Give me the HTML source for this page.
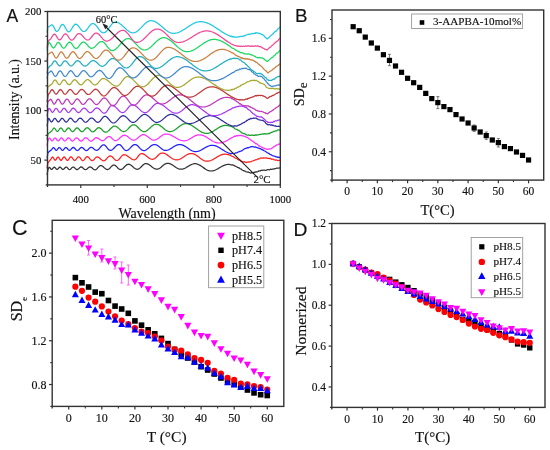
<!DOCTYPE html>
<html><head><meta charset="utf-8"><style>
html,body{margin:0;padding:0;background:#fff;}
svg{display:block;will-change:transform;}
</style></head><body>
<svg width="550" height="450" viewBox="0 0 550 450">
<rect width="550" height="450" fill="#fff"/>
<polyline points="47.10,175.14 47.90,169.64 49.14,167.14 49.97,167.73 50.80,168.89 51.63,169.47 52.50,168.88 53.38,167.70 54.25,167.11 55.17,167.71 56.09,168.91 57.00,169.50 57.73,169.15 58.45,168.29 59.18,167.43 59.90,167.08 60.67,167.44 61.43,168.31 62.20,169.18 62.96,169.54 63.77,169.17 64.57,168.29 65.38,167.41 66.18,167.04 67.04,167.41 67.89,168.31 68.74,169.21 69.60,169.58 70.32,169.33 71.04,168.69 71.76,167.89 72.48,167.25 73.21,167.00 73.97,167.25 74.74,167.91 75.50,168.72 76.27,169.37 77.04,169.62 77.85,169.37 78.66,168.70 79.48,167.88 80.29,167.21 81.11,166.95 81.83,167.14 82.55,167.63 83.27,168.31 83.99,168.99 84.72,169.49 85.44,169.67 86.21,169.49 86.98,168.98 87.75,168.29 88.52,167.59 89.29,167.09 90.06,166.90 90.77,167.04 91.47,167.45 92.18,168.03 92.88,168.67 93.59,169.25 94.29,169.66 95.00,169.80 95.72,169.64 96.45,169.17 97.17,168.47 97.90,167.65 98.62,166.83 99.35,166.13 100.08,165.66 100.80,165.50 101.53,165.62 102.27,165.98 103.00,166.53 103.73,167.19 104.47,167.91 105.20,168.57 105.93,169.12 106.67,169.48 107.40,169.60 108.12,169.46 108.84,169.06 109.57,168.45 110.29,167.70 111.01,166.90 111.73,166.15 112.46,165.54 113.18,165.14 113.90,165.00 114.63,165.14 115.37,165.54 116.10,166.15 116.83,166.90 117.57,167.70 118.30,168.45 119.03,169.06 119.77,169.46 120.50,169.60 121.23,169.49 121.95,169.17 122.68,168.67 123.41,168.02 124.14,167.28 124.86,166.52 125.59,165.78 126.32,165.13 127.05,164.63 127.77,164.31 128.50,164.20 129.22,164.29 129.95,164.54 130.68,164.95 131.40,165.47 132.12,166.09 132.85,166.75 133.57,167.41 134.30,168.03 135.02,168.55 135.75,168.96 136.47,169.21 137.20,169.30 137.92,169.20 138.65,168.92 139.38,168.47 140.10,167.88 140.82,167.19 141.55,166.45 142.28,165.71 143.00,165.03 143.72,164.43 144.45,163.98 145.18,163.70 145.90,163.60 146.63,163.66 147.35,163.84 148.08,164.13 148.81,164.53 149.53,165.00 150.26,165.53 150.99,166.11 151.71,166.69 152.44,167.27 153.17,167.80 153.89,168.27 154.62,168.67 155.35,168.96 156.07,169.14 156.80,169.20 157.51,169.14 158.23,168.94 158.94,168.64 159.65,168.22 160.37,167.72 161.08,167.16 161.79,166.56 162.51,165.94 163.22,165.34 163.93,164.78 164.65,164.28 165.36,163.86 166.07,163.56 166.79,163.36 167.50,163.30 168.21,163.34 168.92,163.46 169.63,163.66 170.34,163.92 171.05,164.25 171.76,164.64 172.47,165.06 173.18,165.53 173.89,166.01 174.61,166.49 175.32,166.97 176.03,167.44 176.74,167.86 177.45,168.25 178.16,168.58 178.87,168.84 179.58,169.04 180.29,169.16 181.00,169.20 181.70,169.17 182.40,169.07 183.10,168.90 183.80,168.67 184.50,168.39 185.20,168.07 185.90,167.70 186.60,167.30 187.30,166.88 188.00,166.45 188.70,166.02 189.40,165.60 190.10,165.20 190.80,164.83 191.50,164.51 192.20,164.23 192.90,164.00 193.60,163.83 194.30,163.73 195.00,163.70 195.72,163.74 196.45,163.85 197.17,164.03 197.89,164.28 198.61,164.59 199.34,164.96 200.06,165.38 200.78,165.83 201.50,166.32 202.23,166.83 202.95,167.35 203.67,167.87 204.40,168.38 205.12,168.87 205.84,169.32 206.56,169.74 207.29,170.11 208.01,170.42 208.73,170.67 209.45,170.85 210.18,170.96 210.90,171.00 211.60,170.97 212.30,170.90 213.00,170.77 213.70,170.59 214.40,170.37 215.10,170.11 215.80,169.80 216.50,169.47 217.20,169.11 217.90,168.72 218.60,168.32 219.30,167.91 220.00,167.49 220.70,167.08 221.40,166.68 222.10,166.29 222.80,165.93 223.50,165.60 224.20,165.29 224.90,165.03 225.60,164.81 226.30,164.63 227.00,164.50 227.70,164.43 228.40,164.40 229.11,164.42 229.81,164.47 230.52,164.81 231.22,164.88 231.93,164.81 232.64,164.89 233.34,165.30 234.05,165.48 234.75,166.03 235.46,166.01 236.17,166.46 236.87,166.88 237.58,167.48 238.28,167.57 238.99,167.81 239.70,168.53 240.40,168.83 241.11,168.97 241.82,169.82 242.52,170.25 243.23,170.49 243.93,170.91 244.64,170.82 245.35,171.43 246.05,171.83 246.76,171.94 247.46,172.02 248.17,171.96 248.88,172.36 249.58,172.61 250.29,172.91 250.99,173.01 251.70,172.68 252.42,172.93 253.14,172.45 253.85,172.73 254.57,172.41 255.29,171.86 256.01,172.16 256.72,171.72 257.44,171.79 258.16,171.45 258.88,170.76 259.59,170.89 260.31,170.95 261.03,170.35 261.75,170.26 262.46,170.54 263.18,170.01 263.90,170.25 264.61,170.01 265.33,170.49 266.04,170.32 266.75,170.00 267.47,169.66 268.18,169.72 268.89,169.74 269.60,169.91 270.32,169.19 271.03,169.36 271.74,169.32 272.46,169.06 273.17,169.10 273.88,168.76 274.60,168.92 275.31,168.54 276.02,168.41 276.73,168.21 277.45,168.23 278.16,168.01 278.87,168.09 279.59,167.86 280.30,168.00" fill="none" stroke="#333333" stroke-width="1.25" stroke-linejoin="round"/>
<polyline points="47.10,168.30 47.90,162.80 49.93,160.30 50.78,159.47 51.63,157.81 52.48,156.98 53.38,157.82 54.27,159.50 55.17,160.34 55.87,159.84 56.58,158.64 57.28,157.43 57.99,156.93 58.73,157.44 59.48,158.66 60.22,159.88 60.97,160.39 61.75,159.88 62.54,158.64 63.32,157.40 64.10,156.88 64.93,157.40 65.76,158.66 66.59,159.92 67.42,160.44 68.12,160.10 68.83,159.19 69.53,158.08 70.23,157.17 70.93,156.83 71.68,157.18 72.42,158.10 73.16,159.23 73.91,160.15 74.65,160.50 75.44,160.15 76.23,159.21 77.02,158.06 77.81,157.12 78.60,156.77 79.31,157.02 80.01,157.72 80.71,158.67 81.41,159.62 82.11,160.31 82.81,160.57 83.56,160.31 84.30,159.60 85.05,158.63 85.80,157.66 86.54,156.95 87.29,156.70 88.09,156.96 88.88,157.68 89.68,158.67 90.48,159.66 91.28,160.38 92.08,160.64 92.81,160.46 93.54,159.94 94.27,159.19 95.00,158.36 95.74,157.60 96.47,157.09 97.20,156.90 97.92,157.02 98.64,157.36 99.37,157.88 100.09,158.51 100.81,159.19 101.53,159.83 102.26,160.34 102.98,160.68 103.70,160.80 104.43,160.65 105.17,160.23 105.90,159.58 106.63,158.78 107.37,157.92 108.10,157.12 108.83,156.47 109.57,156.05 110.30,155.90 111.02,156.04 111.74,156.44 112.47,157.05 113.19,157.80 113.91,158.60 114.63,159.35 115.36,159.96 116.08,160.36 116.80,160.50 117.53,160.36 118.26,159.95 118.99,159.30 119.72,158.50 120.45,157.60 121.18,156.70 121.91,155.90 122.64,155.25 123.37,154.84 124.10,154.70 124.83,154.76 125.56,154.95 126.29,155.26 127.01,155.66 127.74,156.14 128.47,156.68 129.20,157.25 129.93,157.82 130.66,158.36 131.39,158.84 132.11,159.24 132.84,159.55 133.57,159.74 134.30,159.80 135.02,159.65 135.74,159.21 136.46,158.52 137.18,157.66 137.90,156.70 138.62,155.74 139.34,154.88 140.06,154.19 140.78,153.75 141.50,153.60 142.23,153.66 142.97,153.85 143.70,154.14 144.43,154.54 145.17,155.03 145.90,155.57 146.63,156.15 147.37,156.75 148.10,157.33 148.83,157.88 149.57,158.36 150.30,158.76 151.03,159.05 151.77,159.24 152.50,159.30 153.25,159.21 153.99,158.94 154.74,158.51 155.48,157.94 156.23,157.27 156.98,156.53 157.72,155.77 158.47,155.03 159.22,154.36 159.96,153.79 160.71,153.36 161.45,153.09 162.20,153.00 162.91,153.04 163.63,153.17 164.34,153.38 165.06,153.66 165.77,154.01 166.49,154.42 167.20,154.88 167.92,155.38 168.63,155.91 169.35,156.45 170.06,156.99 170.78,157.52 171.50,158.02 172.21,158.48 172.93,158.89 173.64,159.24 174.35,159.52 175.07,159.73 175.78,159.86 176.50,159.90 177.24,159.86 177.97,159.74 178.70,159.55 179.44,159.29 180.18,158.96 180.91,158.58 181.64,158.15 182.38,157.69 183.12,157.20 183.85,156.70 184.58,156.20 185.32,155.71 186.06,155.25 186.79,154.82 187.52,154.44 188.26,154.11 189.00,153.85 189.73,153.66 190.46,153.54 191.20,153.50 191.92,153.54 192.65,153.66 193.37,153.85 194.09,154.11 194.81,154.44 195.54,154.83 196.26,155.27 196.98,155.75 197.70,156.27 198.43,156.80 199.15,157.35 199.87,157.90 200.60,158.43 201.32,158.95 202.04,159.43 202.76,159.87 203.49,160.26 204.21,160.59 204.93,160.85 205.65,161.04 206.38,161.16 207.10,161.20 207.81,161.17 208.52,161.09 209.24,160.95 209.95,160.77 210.66,160.53 211.37,160.25 212.08,159.93 212.80,159.58 213.51,159.19 214.22,158.78 214.93,158.36 215.64,157.92 216.36,157.48 217.07,157.04 217.78,156.62 218.49,156.21 219.20,155.82 219.92,155.47 220.63,155.15 221.34,154.87 222.05,154.63 222.76,154.45 223.48,154.31 224.19,154.23 224.90,154.20 225.61,154.22 226.31,154.28 227.02,154.39 227.73,154.53 228.43,154.71 229.14,154.93 229.85,155.18 230.55,155.20 231.26,156.01 231.96,156.29 232.67,156.29 233.38,156.84 234.08,157.20 234.79,157.74 235.50,158.25 236.20,158.17 236.91,158.53 237.62,159.50 238.32,159.61 239.03,160.22 239.74,160.04 240.44,160.69 241.15,161.20 241.85,161.13 242.56,161.89 243.27,162.07 243.97,161.64 244.68,161.78 245.39,162.25 246.09,162.59 246.80,162.22 247.51,162.08 248.23,162.17 248.94,161.80 249.65,161.80 250.36,161.79 251.07,161.64 251.79,161.23 252.50,160.99 253.21,160.71 253.93,160.60 254.64,160.20 255.35,159.72 256.06,159.99 256.77,159.51 257.49,159.29 258.20,158.71 258.91,159.03 259.62,158.71 260.34,158.00 261.05,157.98 261.76,158.13 262.47,158.02 263.19,158.12 263.90,157.75 264.61,158.04 265.33,157.97 266.04,157.77 266.75,158.06 267.47,158.37 268.18,158.47 268.89,158.38 269.60,158.59 270.32,158.37 271.03,158.70 271.74,159.27 272.46,159.18 273.17,159.20 273.88,159.64 274.60,159.91 275.31,160.05 276.02,159.98 276.73,160.15 277.45,160.31 278.16,160.58 278.87,160.46 279.59,160.41 280.30,160.50" fill="none" stroke="#ff2020" stroke-width="1.25" stroke-linejoin="round"/>
<polyline points="47.10,158.34 47.90,152.84 50.72,150.34 51.63,149.64 52.53,148.24 53.44,147.54 54.15,147.96 54.87,148.96 55.59,149.96 56.30,150.38 57.06,149.96 57.81,148.94 58.57,147.92 59.32,147.50 60.12,147.93 60.92,148.96 61.72,149.99 62.51,150.42 63.36,149.99 64.20,148.94 65.05,147.89 65.89,147.46 66.61,147.74 67.33,148.50 68.04,149.43 68.76,150.18 69.48,150.47 70.24,150.18 71.00,149.41 71.76,148.46 72.52,147.70 73.28,147.40 74.09,147.70 74.90,148.48 75.71,149.45 76.52,150.23 77.33,150.52 78.05,150.31 78.77,149.73 79.49,148.94 80.21,148.14 80.93,147.56 81.65,147.35 82.41,147.56 83.18,148.16 83.95,148.97 84.72,149.78 85.49,150.37 86.26,150.58 86.96,150.42 87.67,149.96 88.38,149.30 89.08,148.57 89.79,147.90 90.49,147.45 91.20,147.28 91.96,147.44 92.71,147.87 93.47,148.49 94.23,149.19 94.99,149.81 95.74,150.25 96.50,150.40 97.22,150.26 97.94,149.87 98.66,149.25 99.38,148.47 100.10,147.60 100.82,146.73 101.54,145.95 102.26,145.33 102.98,144.94 103.70,144.80 104.43,144.97 105.17,145.46 105.90,146.20 106.63,147.11 107.37,148.09 108.10,149.00 108.83,149.74 109.57,150.23 110.30,150.40 111.02,150.30 111.75,150.00 112.47,149.54 113.20,148.93 113.92,148.21 114.65,147.45 115.38,146.69 116.10,145.97 116.83,145.36 117.55,144.90 118.28,144.60 119.00,144.50 119.73,144.65 120.46,145.08 121.19,145.76 121.92,146.61 122.65,147.55 123.38,148.49 124.11,149.34 124.84,150.02 125.57,150.45 126.30,150.60 127.02,150.50 127.75,150.19 128.47,149.71 129.20,149.07 129.93,148.34 130.65,147.55 131.38,146.76 132.10,146.03 132.82,145.39 133.55,144.91 134.28,144.60 135.00,144.50 135.72,144.60 136.45,144.91 137.18,145.39 137.90,146.03 138.62,146.76 139.35,147.55 140.07,148.34 140.80,149.07 141.52,149.71 142.25,150.19 142.97,150.50 143.70,150.60 144.43,150.53 145.15,150.34 145.88,150.02 146.61,149.59 147.33,149.07 148.06,148.49 148.79,147.87 149.51,147.23 150.24,146.61 150.97,146.03 151.69,145.51 152.42,145.08 153.15,144.76 153.87,144.57 154.60,144.50 155.33,144.56 156.05,144.76 156.78,145.06 157.51,145.48 158.23,145.97 158.96,146.54 159.69,147.14 160.41,147.76 161.14,148.36 161.87,148.93 162.59,149.42 163.32,149.84 164.05,150.14 164.77,150.34 165.50,150.40 166.21,150.36 166.92,150.26 167.63,150.08 168.34,149.84 169.05,149.54 169.76,149.18 170.47,148.79 171.18,148.36 171.89,147.91 172.60,147.45 173.31,146.99 174.02,146.54 174.73,146.11 175.44,145.72 176.15,145.36 176.86,145.06 177.57,144.82 178.28,144.64 178.99,144.54 179.70,144.50 180.42,144.54 181.15,144.64 181.87,144.82 182.59,145.06 183.31,145.37 184.04,145.73 184.76,146.13 185.48,146.58 186.20,147.05 186.93,147.54 187.65,148.05 188.37,148.56 189.10,149.05 189.82,149.52 190.54,149.97 191.26,150.37 191.99,150.73 192.71,151.04 193.43,151.28 194.15,151.46 194.88,151.56 195.60,151.60 196.32,151.57 197.04,151.48 197.77,151.34 198.49,151.14 199.21,150.89 199.93,150.60 200.65,150.27 201.37,149.90 202.10,149.50 202.82,149.09 203.54,148.66 204.26,148.24 204.98,147.81 205.70,147.40 206.43,147.00 207.15,146.63 207.87,146.30 208.59,146.01 209.31,145.76 210.03,145.56 210.76,145.42 211.48,145.33 212.20,145.30 212.91,145.33 213.61,145.40 214.32,145.53 215.03,145.71 215.74,145.93 216.44,146.19 217.15,146.50 217.86,146.84 218.56,147.22 219.27,147.62 219.98,148.05 220.69,148.49 221.39,148.94 222.10,149.40 222.81,149.86 223.51,150.31 224.22,150.75 224.93,151.18 225.64,151.58 226.34,151.96 227.05,152.30 227.76,152.61 228.46,152.87 229.17,153.09 229.88,153.27 230.59,153.72 231.29,153.79 232.00,153.19 232.72,153.19 233.44,153.66 234.16,153.49 234.88,153.31 235.60,152.89 236.32,152.89 237.04,152.66 237.77,152.38 238.49,151.79 239.21,151.67 239.93,151.32 240.65,151.20 241.37,151.04 242.09,150.65 242.81,150.00 243.53,149.57 244.25,149.09 244.97,148.59 245.69,148.25 246.41,148.25 247.13,147.85 247.86,147.63 248.58,147.76 249.30,147.30 250.02,147.15 250.74,146.79 251.46,146.55 252.18,146.70 252.90,146.55 253.60,146.82 254.31,147.22 255.01,147.08 255.71,146.85 256.41,147.50 257.12,147.61 257.82,147.78 258.52,148.15 259.22,148.32 259.93,148.63 260.63,148.65 261.33,149.43 262.03,149.77 262.74,149.59 263.44,150.40 264.14,150.78 264.84,151.01 265.55,151.48 266.25,151.88 266.95,152.61 267.65,152.74 268.36,153.39 269.06,153.47 269.76,154.25 270.46,154.65 271.17,154.72 271.87,155.16 272.57,155.75 273.27,155.93 273.98,156.06 274.68,156.14 275.38,156.46 276.08,156.93 276.79,156.74 277.49,157.41 278.19,157.08 278.89,157.62 279.60,157.25 280.30,157.40" fill="none" stroke="#2020ff" stroke-width="1.25" stroke-linejoin="round"/>
<polyline points="47.10,145.98 47.90,140.48 49.36,137.98 50.28,138.72 51.20,140.20 52.12,140.94 52.85,140.50 53.57,139.44 54.30,138.38 55.03,137.95 55.80,138.39 56.57,139.46 57.34,140.53 58.11,140.97 58.92,140.53 59.74,139.44 60.55,138.35 61.37,137.90 62.23,138.36 63.10,139.46 63.96,140.56 64.83,141.02 65.56,140.72 66.30,139.93 67.03,138.95 67.77,138.16 68.50,137.86 69.28,138.16 70.06,138.97 70.84,139.96 71.63,140.76 72.41,141.07 73.24,140.76 74.08,139.94 74.91,138.93 75.74,138.12 76.58,137.80 77.32,138.03 78.06,138.63 78.80,139.46 79.55,140.29 80.29,140.90 81.03,141.12 81.83,140.90 82.62,140.28 83.42,139.43 84.21,138.59 85.01,137.97 85.80,137.74 86.54,137.91 87.27,138.39 88.00,139.08 88.73,139.85 89.46,140.54 90.20,141.02 90.93,141.19 91.72,141.02 92.50,140.53 93.29,139.82 94.08,139.04 94.87,138.34 95.66,137.85 96.44,137.67 97.19,137.79 97.93,138.12 98.68,138.61 99.42,139.19 100.17,139.77 100.91,140.26 101.66,140.58 102.40,140.70 103.16,140.57 103.91,140.21 104.67,139.65 105.42,138.96 106.18,138.24 106.93,137.55 107.69,136.99 108.44,136.63 109.20,136.50 109.96,136.66 110.72,137.12 111.49,137.80 112.25,138.60 113.01,139.40 113.78,140.08 114.54,140.54 115.30,140.70 116.00,140.62 116.70,140.39 117.40,140.01 118.10,139.51 118.80,138.93 119.50,138.28 120.20,137.62 120.90,136.97 121.60,136.39 122.30,135.89 123.00,135.51 123.70,135.28 124.40,135.20 125.11,135.27 125.82,135.48 126.52,135.82 127.23,136.26 127.94,136.78 128.65,137.35 129.35,137.95 130.06,138.52 130.77,139.04 131.48,139.48 132.18,139.82 132.89,140.03 133.60,140.10 134.30,140.03 135.00,139.83 135.70,139.50 136.40,139.06 137.10,138.54 137.80,137.96 138.50,137.35 139.20,136.74 139.90,136.16 140.60,135.64 141.30,135.20 142.00,134.87 142.70,134.67 143.40,134.60 144.14,134.67 144.89,134.87 145.63,135.20 146.37,135.64 147.11,136.16 147.86,136.74 148.60,137.35 149.34,137.96 150.09,138.54 150.83,139.06 151.57,139.50 152.31,139.83 153.06,140.03 153.80,140.10 154.52,140.05 155.24,139.89 155.95,139.64 156.67,139.30 157.39,138.89 158.11,138.41 158.82,137.88 159.54,137.33 160.26,136.77 160.98,136.22 161.69,135.69 162.41,135.21 163.13,134.80 163.85,134.46 164.56,134.21 165.28,134.05 166.00,134.00 166.73,134.03 167.46,134.11 168.18,134.24 168.91,134.42 169.64,134.65 170.37,134.92 171.10,135.23 171.82,135.58 172.55,135.95 173.28,136.35 174.01,136.76 174.74,137.19 175.46,137.61 176.19,138.04 176.92,138.45 177.65,138.85 178.38,139.22 179.10,139.57 179.83,139.88 180.56,140.15 181.29,140.38 182.02,140.56 182.74,140.69 183.47,140.77 184.20,140.80 184.92,140.77 185.64,140.67 186.36,140.50 187.08,140.28 187.80,140.00 188.51,139.67 189.23,139.30 189.95,138.90 190.67,138.47 191.39,138.02 192.11,137.58 192.83,137.13 193.55,136.70 194.27,136.30 194.99,135.93 195.70,135.60 196.42,135.32 197.14,135.10 197.86,134.93 198.58,134.83 199.30,134.80 200.00,134.83 200.71,134.90 201.41,135.03 202.11,135.21 202.82,135.43 203.52,135.69 204.23,136.00 204.93,136.34 205.63,136.72 206.34,137.12 207.04,137.55 207.74,137.99 208.45,138.44 209.15,138.90 209.85,139.36 210.56,139.81 211.26,140.25 211.96,140.68 212.67,141.08 213.37,141.46 214.07,141.80 214.78,142.11 215.48,142.37 216.19,142.59 216.89,142.77 217.59,142.90 218.30,142.97 219.00,143.00 219.71,142.98 220.43,142.91 221.14,142.80 221.86,142.65 222.57,142.46 223.28,142.23 224.00,141.96 224.71,141.66 225.42,141.33 226.14,140.98 226.85,140.61 227.57,140.22 228.28,139.81 228.99,139.41 229.71,138.99 230.42,138.40 231.13,138.21 231.85,137.70 232.56,137.49 233.28,137.16 233.99,136.44 234.70,136.10 235.42,136.41 236.13,135.78 236.84,135.57 237.56,135.95 238.27,135.47 238.99,135.66 239.70,135.38 240.40,135.52 241.10,135.24 241.81,135.67 242.51,135.97 243.21,135.91 243.91,136.27 244.62,136.47 245.32,136.33 246.02,137.13 246.72,137.36 247.43,137.54 248.13,137.75 248.83,138.76 249.53,138.93 250.24,139.57 250.94,140.17 251.64,140.55 252.34,141.20 253.05,141.35 253.75,142.15 254.45,142.42 255.15,143.28 255.86,143.76 256.56,143.72 257.26,144.24 257.96,144.78 258.67,145.77 259.37,145.85 260.07,146.41 260.77,146.58 261.48,147.10 262.18,147.37 262.88,147.66 263.58,148.10 264.29,148.35 264.99,148.79 265.69,148.81 266.39,149.12 267.10,149.17 267.80,149.32 268.50,149.12 269.24,148.72 269.98,149.06 270.71,148.90 271.45,148.55 272.19,147.94 272.93,147.61 273.66,146.79 274.40,146.73 275.14,146.06 275.88,145.39 276.61,144.81 277.35,144.98 278.09,144.76 278.82,143.90 279.56,144.26 280.30,144.00" fill="none" stroke="#ff30ff" stroke-width="1.25" stroke-linejoin="round"/>
<polyline points="47.10,139.50 47.90,134.00 51.02,131.50 51.79,130.98 52.56,129.74 53.32,128.50 54.09,127.98 54.90,128.50 55.72,129.76 56.53,131.02 57.34,131.54 58.21,131.01 59.07,129.74 59.94,128.46 60.80,127.93 61.54,128.28 62.28,129.20 63.01,130.33 63.75,131.24 64.48,131.59 65.27,131.24 66.06,130.31 66.84,129.16 67.63,128.23 68.41,127.88 69.25,128.24 70.09,129.18 70.93,130.35 71.77,131.29 72.61,131.65 73.36,131.40 74.11,130.69 74.86,129.73 75.61,128.77 76.36,128.07 77.11,127.81 77.92,128.08 78.72,128.79 79.53,129.77 80.33,130.74 81.14,131.46 81.95,131.72 82.69,131.53 83.43,130.97 84.18,130.17 84.92,129.29 85.67,128.49 86.41,127.94 87.15,127.74 87.86,127.89 88.56,128.33 89.26,128.99 89.97,129.77 90.67,130.55 91.37,131.21 92.08,131.65 92.78,131.80 93.54,131.64 94.30,131.19 95.06,130.52 95.83,129.73 96.59,128.93 97.35,128.26 98.11,127.81 98.87,127.65 99.61,127.79 100.35,128.19 101.08,128.79 101.82,129.53 102.55,130.32 103.29,131.06 104.03,131.67 104.76,132.06 105.50,132.20 106.21,132.11 106.92,131.85 107.62,131.43 108.33,130.88 109.04,130.23 109.75,129.52 110.45,128.78 111.16,128.07 111.87,127.42 112.58,126.87 113.28,126.45 113.99,126.19 114.70,126.10 115.46,126.19 116.22,126.47 116.97,126.91 117.73,127.47 118.49,128.14 119.25,128.85 120.01,129.56 120.77,130.22 121.53,130.79 122.28,131.23 123.04,131.51 123.80,131.60 124.55,131.50 125.31,131.21 126.06,130.74 126.82,130.13 127.57,129.41 128.32,128.61 129.08,127.79 129.83,126.99 130.58,126.27 131.34,125.66 132.09,125.19 132.85,124.90 133.60,124.80 134.34,124.89 135.09,125.14 135.83,125.54 136.57,126.08 137.31,126.72 138.06,127.44 138.80,128.20 139.54,128.96 140.29,129.68 141.03,130.32 141.77,130.86 142.51,131.26 143.26,131.51 144.00,131.60 144.72,131.54 145.44,131.35 146.15,131.05 146.87,130.63 147.59,130.13 148.31,129.55 149.02,128.91 149.74,128.24 150.46,127.56 151.18,126.89 151.89,126.25 152.61,125.67 153.33,125.17 154.05,124.75 154.76,124.45 155.48,124.26 156.20,124.20 156.92,124.25 157.64,124.40 158.36,124.65 159.08,124.98 159.81,125.39 160.53,125.88 161.25,126.41 161.97,126.99 162.69,127.59 163.41,128.21 164.13,128.81 164.85,129.39 165.57,129.92 166.29,130.41 167.02,130.82 167.74,131.15 168.46,131.40 169.18,131.55 169.90,131.60 170.62,131.56 171.35,131.44 172.07,131.24 172.79,130.97 173.51,130.62 174.24,130.22 174.96,129.76 175.68,129.26 176.40,128.73 177.13,128.17 177.85,127.60 178.57,127.03 179.30,126.47 180.02,125.94 180.74,125.44 181.46,124.98 182.19,124.58 182.91,124.23 183.63,123.96 184.35,123.76 185.08,123.64 185.80,123.60 186.52,123.63 187.23,123.71 187.95,123.86 188.67,124.05 189.39,124.30 190.10,124.60 190.82,124.94 191.54,125.33 192.26,125.75 192.97,126.20 193.69,126.69 194.41,127.19 195.12,127.71 195.84,128.23 196.56,128.77 197.28,129.29 197.99,129.81 198.71,130.31 199.43,130.80 200.14,131.25 200.86,131.67 201.58,132.06 202.30,132.40 203.01,132.70 203.73,132.95 204.45,133.14 205.17,133.29 205.88,133.37 206.60,133.40 207.30,133.37 208.00,133.29 208.70,133.16 209.40,132.97 210.10,132.74 210.80,132.46 211.50,132.14 212.20,131.79 212.90,131.40 213.60,130.98 214.30,130.55 215.00,130.09 215.70,129.63 216.40,129.17 217.10,128.71 217.80,128.25 218.50,127.82 219.20,127.40 219.90,127.01 220.60,126.66 221.30,126.34 222.00,126.06 222.70,125.83 223.40,125.64 224.10,125.51 224.80,125.43 225.50,125.40 226.22,125.42 226.94,125.48 227.66,125.58 228.38,125.72 229.10,125.89 229.82,126.10 230.54,126.16 231.26,126.34 231.98,126.86 232.70,127.02 233.42,127.32 234.14,127.94 234.86,128.70 235.58,129.03 236.30,129.43 237.02,129.49 237.74,130.15 238.46,130.42 239.18,130.79 239.90,131.18 240.62,131.68 241.34,132.59 242.06,132.93 242.78,133.29 243.50,133.65 244.22,133.56 244.94,133.94 245.66,134.44 246.38,134.76 247.10,135.06 247.82,135.25 248.54,134.83 249.26,135.29 249.98,135.40 250.70,135.30 251.43,135.07 252.16,135.25 252.89,134.94 253.62,135.48 254.35,135.37 255.08,135.07 255.81,134.81 256.54,135.14 257.27,134.80 258.00,134.92 258.73,134.79 259.46,134.45 260.19,134.29 260.92,134.34 261.65,134.14 262.38,133.89 263.11,133.93 263.84,134.25 264.57,133.69 265.30,133.68 266.01,134.07 266.73,133.76 267.44,133.83 268.16,133.63 268.87,133.36 269.59,133.60 270.30,132.79 271.01,132.67 271.73,132.24 272.44,132.24 273.16,131.69 273.87,131.45 274.59,131.44 275.30,130.87 276.01,130.79 276.73,130.82 277.44,130.07 278.16,129.89 278.87,129.90 279.59,130.21 280.30,130.00" fill="none" stroke="#18a028" stroke-width="1.25" stroke-linejoin="round"/>
<polyline points="47.10,126.34 47.90,120.84 48.38,118.34 49.16,118.87 49.94,120.16 50.72,121.45 51.50,121.99 52.32,121.45 53.15,120.14 53.98,118.83 54.81,118.29 55.52,118.64 56.22,119.58 56.93,120.74 57.64,121.68 58.34,122.04 59.10,121.68 59.85,120.72 60.61,119.55 61.36,118.59 62.12,118.23 62.92,118.60 63.73,119.57 64.54,120.76 65.34,121.73 66.15,122.10 66.87,121.84 67.60,121.12 68.32,120.13 69.04,119.15 69.76,118.43 70.48,118.16 71.26,118.43 72.03,119.17 72.81,120.17 73.59,121.17 74.36,121.90 75.14,122.17 75.85,121.97 76.57,121.40 77.29,120.58 78.01,119.68 78.72,118.86 79.44,118.29 80.16,118.09 80.93,118.29 81.71,118.87 82.48,119.71 83.26,120.63 84.04,121.47 84.81,122.05 85.59,122.25 86.32,122.09 87.06,121.63 87.80,120.94 88.53,120.13 89.27,119.31 90.00,118.62 90.74,118.16 91.48,118.00 92.19,118.13 92.90,118.51 93.62,119.09 94.33,119.80 95.04,120.55 95.75,121.26 96.47,121.84 97.18,122.22 97.89,122.35 98.59,122.20 99.29,121.77 99.99,121.10 100.69,120.26 101.40,119.33 102.10,118.39 102.80,117.55 103.50,116.88 104.20,116.45 104.90,116.30 105.61,116.41 106.32,116.75 107.03,117.28 107.73,117.97 108.44,118.78 109.15,119.65 109.86,120.52 110.57,121.33 111.28,122.02 111.98,122.55 112.69,122.89 113.40,123.00 114.15,122.89 114.91,122.58 115.66,122.08 116.42,121.42 117.17,120.64 117.92,119.79 118.68,118.91 119.43,118.06 120.18,117.28 120.94,116.62 121.69,116.12 122.45,115.81 123.20,115.70 123.95,115.80 124.71,116.08 125.46,116.54 126.22,117.15 126.97,117.86 127.72,118.65 128.48,119.45 129.23,120.24 129.98,120.95 130.74,121.56 131.49,122.02 132.25,122.30 133.00,122.40 133.72,122.32 134.45,122.10 135.18,121.73 135.90,121.23 136.62,120.62 137.35,119.93 138.07,119.18 138.80,118.40 139.53,117.62 140.25,116.87 140.97,116.18 141.70,115.57 142.42,115.07 143.15,114.70 143.88,114.48 144.60,114.40 145.32,114.47 146.04,114.67 146.75,115.00 147.47,115.44 148.19,115.99 148.91,116.62 149.62,117.31 150.34,118.03 151.06,118.77 151.78,119.49 152.49,120.18 153.21,120.81 153.93,121.36 154.65,121.80 155.36,122.13 156.08,122.33 156.80,122.40 157.52,122.35 158.23,122.20 158.95,121.96 159.66,121.64 160.38,121.23 161.09,120.75 161.81,120.22 162.52,119.64 163.24,119.03 163.95,118.40 164.66,117.77 165.38,117.16 166.09,116.58 166.81,116.05 167.53,115.57 168.24,115.16 168.95,114.84 169.67,114.60 170.38,114.45 171.10,114.40 171.80,114.43 172.51,114.53 173.21,114.70 173.92,114.93 174.62,115.21 175.32,115.56 176.03,115.95 176.73,116.39 177.43,116.86 178.14,117.37 178.84,117.90 179.55,118.45 180.25,119.00 180.95,119.55 181.66,120.10 182.36,120.63 183.07,121.14 183.77,121.61 184.47,122.05 185.18,122.44 185.88,122.79 186.58,123.07 187.29,123.30 187.99,123.47 188.70,123.57 189.40,123.60 190.12,123.58 190.83,123.51 191.55,123.39 192.27,123.23 192.99,123.03 193.70,122.79 194.42,122.52 195.14,122.21 195.86,121.87 196.57,121.50 197.29,121.11 198.01,120.71 198.72,120.29 199.44,119.86 200.16,119.44 200.88,119.01 201.59,118.59 202.31,118.19 203.03,117.80 203.74,117.43 204.46,117.09 205.18,116.78 205.90,116.51 206.61,116.27 207.33,116.07 208.05,115.91 208.77,115.79 209.48,115.72 210.20,115.70 210.90,115.72 211.60,115.78 212.30,115.89 213.00,116.03 213.70,116.21 214.40,116.43 215.10,116.68 215.80,116.97 216.50,117.29 217.20,117.64 217.90,118.01 218.60,118.41 219.30,118.83 220.00,119.26 220.70,119.70 221.40,120.16 222.10,120.62 222.80,121.08 223.50,121.54 224.20,122.00 224.90,122.44 225.60,122.87 226.30,123.29 227.00,123.69 227.70,124.06 228.40,124.41 229.10,124.73 229.80,125.02 230.50,125.36 231.20,125.66 231.90,125.88 232.60,126.12 233.30,126.09 234.00,126.27 234.70,125.67 235.41,125.95 236.13,126.21 236.84,125.88 237.56,125.88 238.27,125.12 238.99,125.11 239.70,124.65 240.41,124.52 241.13,124.18 241.84,123.39 242.56,123.12 243.27,122.74 243.99,122.74 244.70,122.19 245.41,121.31 246.13,121.32 246.84,120.43 247.56,120.35 248.27,119.61 248.99,119.16 249.70,119.43 250.41,118.67 251.13,118.41 251.84,118.73 252.56,118.49 253.27,117.95 253.99,118.35 254.70,118.03 255.43,118.18 256.15,118.01 256.88,118.77 257.61,118.92 258.34,119.48 259.06,119.82 259.79,119.77 260.52,120.14 261.25,120.25 261.97,120.40 262.70,120.40 263.46,120.76 264.21,121.53 264.97,121.91 265.73,123.27 266.49,123.83 267.24,124.37 268.00,124.92 268.72,124.70 269.45,124.64 270.17,124.84 270.89,125.10 271.62,124.79 272.34,125.59 273.06,125.09 273.79,125.78 274.51,126.03 275.24,125.64 275.96,126.35 276.68,126.21 277.41,126.49 278.13,126.21 278.85,126.32 279.58,126.46 280.30,126.70" fill="none" stroke="#3030a0" stroke-width="1.25" stroke-linejoin="round"/>
<polyline points="47.10,116.35 47.90,110.85 49.08,108.35 49.92,108.94 50.76,110.36 51.60,111.79 52.45,112.38 53.16,111.99 53.88,110.97 54.60,109.70 55.32,108.68 56.04,108.29 56.81,108.69 57.58,109.73 58.35,111.01 59.12,112.05 59.89,112.44 60.72,112.04 61.54,110.98 62.37,109.68 63.19,108.63 64.02,108.22 64.76,108.51 65.50,109.30 66.24,110.37 66.98,111.44 67.72,112.23 68.46,112.52 69.26,112.22 70.06,111.42 70.86,110.33 71.66,109.24 72.46,108.44 73.26,108.14 74.00,108.36 74.74,108.98 75.48,109.88 76.22,110.87 76.96,111.76 77.71,112.38 78.45,112.60 79.15,112.43 79.86,111.94 80.56,111.20 81.26,110.33 81.97,109.45 82.67,108.72 83.38,108.22 84.08,108.05 84.85,108.23 85.61,108.73 86.38,109.49 87.15,110.38 87.92,111.27 88.68,112.02 89.45,112.53 90.22,112.70 90.96,112.56 91.71,112.15 92.45,111.51 93.20,110.73 93.95,109.91 94.69,109.13 95.44,108.50 96.18,108.08 96.93,107.94 97.67,108.07 98.40,108.44 99.14,109.02 99.88,109.76 100.61,110.57 101.35,111.38 102.09,112.12 102.83,112.70 103.56,113.07 104.30,113.20 105.02,113.04 105.74,112.57 106.45,111.84 107.17,110.89 107.89,109.81 108.61,108.69 109.33,107.61 110.05,106.66 110.76,105.93 111.48,105.46 112.20,105.30 112.94,105.39 113.69,105.66 114.43,106.10 115.17,106.67 115.91,107.37 116.66,108.14 117.40,108.95 118.14,109.76 118.89,110.53 119.63,111.23 120.37,111.80 121.11,112.24 121.86,112.51 122.60,112.60 123.30,112.50 124.00,112.21 124.70,111.74 125.40,111.11 126.10,110.36 126.80,109.53 127.50,108.65 128.20,107.77 128.90,106.94 129.60,106.19 130.30,105.56 131.00,105.09 131.70,104.80 132.40,104.70 133.11,104.76 133.82,104.94 134.53,105.23 135.24,105.62 135.96,106.11 136.67,106.67 137.38,107.30 138.09,107.96 138.80,108.65 139.51,109.34 140.22,110.00 140.93,110.62 141.64,111.19 142.36,111.68 143.07,112.07 143.78,112.36 144.49,112.54 145.20,112.60 145.92,112.52 146.65,112.29 147.37,111.91 148.09,111.40 148.82,110.77 149.54,110.05 150.26,109.26 150.99,108.42 151.71,107.58 152.44,106.74 153.16,105.95 153.88,105.23 154.61,104.60 155.33,104.09 156.05,103.71 156.78,103.48 157.50,103.40 158.21,103.44 158.92,103.54 159.63,103.72 160.35,103.96 161.06,104.27 161.77,104.63 162.48,105.05 163.19,105.52 163.90,106.02 164.62,106.56 165.33,107.13 166.04,107.71 166.75,108.30 167.46,108.89 168.17,109.47 168.88,110.04 169.60,110.58 170.31,111.08 171.02,111.55 171.73,111.97 172.44,112.33 173.15,112.64 173.87,112.88 174.58,113.06 175.29,113.16 176.00,113.20 176.72,113.16 177.45,113.03 178.17,112.82 178.89,112.53 179.61,112.16 180.34,111.73 181.06,111.25 181.78,110.72 182.50,110.15 183.23,109.55 183.95,108.95 184.67,108.35 185.40,107.75 186.12,107.18 186.84,106.65 187.56,106.17 188.29,105.74 189.01,105.37 189.73,105.08 190.45,104.87 191.18,104.74 191.90,104.70 192.61,104.73 193.32,104.81 194.03,104.95 194.74,105.15 195.45,105.39 196.16,105.69 196.87,106.03 197.58,106.41 198.29,106.83 199.00,107.29 199.71,107.78 200.42,108.29 201.13,108.82 201.84,109.37 202.55,109.92 203.25,110.48 203.96,111.03 204.67,111.58 205.38,112.11 206.09,112.62 206.80,113.11 207.51,113.57 208.22,113.99 208.93,114.37 209.64,114.71 210.35,115.01 211.06,115.25 211.77,115.45 212.48,115.59 213.19,115.67 213.90,115.70 214.60,115.68 215.31,115.64 216.01,115.56 216.71,115.45 217.41,115.31 218.12,115.14 218.82,114.95 219.52,114.73 220.22,114.48 220.93,114.21 221.63,113.92 222.33,113.61 223.03,113.28 223.74,112.93 224.44,112.57 225.14,112.20 225.84,111.82 226.55,111.43 227.25,111.05 227.95,110.65 228.65,110.27 229.36,109.88 230.06,109.71 230.76,109.36 231.46,108.76 232.17,108.26 232.87,107.75 233.57,107.90 234.27,107.47 234.98,107.40 235.68,106.88 236.38,106.94 237.08,106.40 237.79,106.60 238.49,106.41 239.19,106.08 239.89,106.09 240.60,106.14 241.30,105.79 242.02,106.08 242.74,106.37 243.46,106.18 244.18,106.83 244.90,107.08 245.62,107.59 246.33,107.69 247.05,108.03 247.77,109.07 248.49,109.67 249.21,110.03 249.93,110.42 250.65,111.14 251.37,112.09 252.09,112.48 252.81,113.56 253.53,113.90 254.25,114.18 254.97,115.01 255.68,115.26 256.40,116.06 257.12,116.37 257.84,116.36 258.56,116.65 259.28,116.80 260.00,116.91 260.72,117.12 261.43,116.71 262.15,117.36 262.86,118.07 263.58,118.50 264.29,119.40 265.01,119.77 265.72,121.03 266.44,121.42 267.15,121.68 267.87,122.47 268.58,122.48 269.30,122.49 270.03,122.66 270.77,122.33 271.50,122.24 272.23,122.51 272.97,122.16 273.70,121.43 274.43,121.69 275.17,120.87 275.90,120.82 276.63,120.96 277.37,120.53 278.10,120.12 278.83,120.03 279.57,119.95 280.30,120.00" fill="none" stroke="#a838f8" stroke-width="1.25" stroke-linejoin="round"/>
<polyline points="47.10,107.19 47.90,101.69 50.49,99.19 51.22,99.67 51.96,100.90 52.69,102.43 53.42,103.67 54.16,104.15 54.94,103.66 55.73,102.41 56.52,100.85 57.31,99.59 58.09,99.11 58.80,99.46 59.50,100.39 60.21,101.67 60.92,102.95 61.62,103.89 62.33,104.23 63.09,103.88 63.85,102.93 64.61,101.63 65.38,100.32 66.14,99.37 66.90,99.02 67.61,99.28 68.31,100.02 69.02,101.09 69.73,102.27 70.43,103.33 71.14,104.07 71.85,104.33 72.62,104.06 73.38,103.31 74.15,102.22 74.92,101.02 75.69,99.93 76.45,99.18 77.22,98.91 77.95,99.12 78.69,99.72 79.42,100.62 80.15,101.68 80.88,102.74 81.61,103.64 82.35,104.24 83.08,104.45 83.79,104.28 84.50,103.79 85.21,103.03 85.93,102.11 86.64,101.12 87.35,100.20 88.06,99.44 88.77,98.95 89.49,98.78 90.19,98.92 90.89,99.34 91.60,99.98 92.30,100.79 93.01,101.69 93.71,102.59 94.41,103.40 95.12,104.04 95.82,104.45 96.53,104.59 97.23,104.46 97.94,104.06 98.65,103.44 99.35,102.64 100.06,101.72 100.77,100.77 101.47,99.86 102.18,99.05 102.89,98.43 103.59,98.04 104.30,97.90 105.01,98.04 105.72,98.44 106.42,99.07 107.13,99.90 107.84,100.86 108.55,101.90 109.26,102.94 109.97,103.90 110.67,104.73 111.38,105.36 112.09,105.76 112.80,105.90 113.54,105.78 114.29,105.41 115.03,104.83 115.77,104.06 116.51,103.13 117.26,102.09 118.00,101.00 118.74,99.91 119.49,98.87 120.23,97.94 120.97,97.17 121.71,96.59 122.46,96.22 123.20,96.10 123.94,96.22 124.69,96.56 125.43,97.10 126.17,97.83 126.91,98.70 127.66,99.68 128.40,100.70 129.14,101.72 129.89,102.70 130.63,103.57 131.37,104.30 132.11,104.84 132.86,105.18 133.60,105.30 134.32,105.22 135.03,104.99 135.75,104.60 136.47,104.08 137.18,103.44 137.90,102.70 138.62,101.88 139.33,101.00 140.05,100.10 140.77,99.20 141.48,98.32 142.20,97.50 142.92,96.76 143.63,96.12 144.35,95.60 145.07,95.21 145.78,94.98 146.50,94.90 147.20,94.95 147.91,95.08 148.61,95.31 149.32,95.62 150.02,96.01 150.73,96.47 151.43,96.99 152.14,97.56 152.84,98.17 153.55,98.80 154.25,99.45 154.95,100.10 155.66,100.73 156.36,101.34 157.07,101.91 157.77,102.43 158.48,102.89 159.18,103.28 159.89,103.59 160.59,103.82 161.30,103.95 162.00,104.00 162.71,103.96 163.42,103.86 164.12,103.68 164.83,103.43 165.54,103.12 166.25,102.75 166.96,102.33 167.66,101.86 168.37,101.36 169.08,100.82 169.79,100.26 170.50,99.69 171.20,99.11 171.91,98.54 172.62,97.98 173.33,97.44 174.04,96.94 174.74,96.47 175.45,96.05 176.16,95.68 176.87,95.37 177.58,95.12 178.28,94.94 178.99,94.84 179.70,94.80 180.41,94.83 181.11,94.91 181.82,95.05 182.52,95.24 183.23,95.48 183.94,95.77 184.64,96.11 185.35,96.49 186.05,96.91 186.76,97.36 187.47,97.85 188.17,98.37 188.88,98.90 189.58,99.46 190.29,100.03 191.00,100.61 191.70,101.19 192.41,101.77 193.12,102.34 193.82,102.90 194.53,103.43 195.23,103.95 195.94,104.44 196.65,104.89 197.35,105.31 198.06,105.69 198.76,106.03 199.47,106.32 200.18,106.56 200.88,106.75 201.59,106.89 202.29,106.97 203.00,107.00 203.72,106.98 204.44,106.91 205.15,106.80 205.87,106.65 206.59,106.46 207.31,106.23 208.03,105.96 208.75,105.66 209.46,105.33 210.18,104.96 210.90,104.58 211.62,104.16 212.34,103.74 213.05,103.29 213.77,102.84 214.49,102.38 215.21,101.92 215.93,101.46 216.65,101.01 217.36,100.56 218.08,100.14 218.80,99.72 219.52,99.34 220.24,98.97 220.95,98.64 221.67,98.34 222.39,98.07 223.11,97.84 223.83,97.65 224.55,97.50 225.26,97.39 225.98,97.32 226.70,97.30 227.41,97.33 228.13,97.41 228.84,97.54 229.56,97.73 230.27,97.84 230.99,98.00 231.70,98.68 232.41,98.64 233.13,99.36 233.84,99.67 234.56,99.90 235.27,100.69 235.99,100.84 236.70,101.60 237.41,101.84 238.13,102.33 238.84,103.03 239.56,103.77 240.27,103.70 240.99,104.17 241.70,104.82 242.41,105.36 243.13,105.39 243.84,105.50 244.56,106.09 245.27,105.57 245.99,106.22 246.70,105.85 247.40,105.79 248.10,105.88 248.80,106.19 249.50,106.78 250.20,106.63 250.90,107.26 251.60,107.68 252.30,107.91 253.00,108.46 253.70,108.56 254.40,108.99 255.10,109.51 255.80,110.23 256.50,110.39 257.20,110.61 257.90,111.04 258.60,111.12 259.30,111.12 260.00,111.51 260.73,111.47 261.46,111.25 262.19,111.65 262.92,111.83 263.65,112.35 264.38,112.57 265.11,112.63 265.84,113.50 266.57,113.31 267.30,113.94 268.02,113.66 268.74,112.72 269.47,112.44 270.19,111.61 270.91,111.53 271.63,111.09 272.36,110.43 273.08,110.13 273.80,109.22 274.52,108.97 275.24,108.38 275.97,107.86 276.69,107.25 277.41,107.00 278.13,106.56 278.86,105.72 279.58,105.33 280.30,104.70" fill="none" stroke="#c038b8" stroke-width="1.25" stroke-linejoin="round"/>
<polyline points="47.10,102.11 47.90,96.61 48.34,94.11 49.09,93.69 49.83,92.57 50.57,91.19 51.32,90.08 52.06,89.65 52.86,90.08 53.66,91.22 54.46,92.62 55.26,93.75 56.06,94.19 56.78,93.88 57.50,93.03 58.22,91.88 58.94,90.72 59.66,89.88 60.37,89.57 61.15,89.89 61.93,90.75 62.71,91.92 63.49,93.10 64.27,93.96 65.05,94.27 65.77,94.04 66.49,93.37 67.22,92.41 67.94,91.34 68.67,90.38 69.39,89.71 70.12,89.48 70.91,89.72 71.70,90.40 72.49,91.38 73.28,92.47 74.07,93.45 74.86,94.13 75.65,94.38 76.40,94.19 77.16,93.64 77.91,92.83 78.67,91.87 79.42,90.91 80.18,90.10 80.94,89.55 81.69,89.36 82.43,89.52 83.17,89.96 83.91,90.65 84.64,91.49 85.38,92.38 86.12,93.22 86.86,93.90 87.60,94.35 88.33,94.50 89.07,94.37 89.80,94.00 90.53,93.41 91.27,92.68 92.00,91.86 92.73,91.05 93.47,90.32 94.20,89.73 94.93,89.36 95.67,89.23 96.41,89.37 97.15,89.77 97.88,90.40 98.62,91.21 99.36,92.13 100.10,93.10 100.84,94.02 101.58,94.83 102.32,95.46 103.06,95.86 103.80,96.00 104.53,95.89 105.26,95.58 105.99,95.07 106.71,94.40 107.44,93.59 108.17,92.70 108.90,91.75 109.63,90.80 110.36,89.91 111.09,89.10 111.81,88.43 112.54,87.92 113.27,87.61 114.00,87.50 114.73,87.59 115.47,87.85 116.20,88.26 116.93,88.82 117.67,89.50 118.40,90.26 119.13,91.08 119.87,91.92 120.60,92.74 121.33,93.50 122.07,94.18 122.80,94.74 123.53,95.15 124.27,95.41 125.00,95.50 125.74,95.42 126.47,95.19 127.21,94.80 127.94,94.29 128.68,93.65 129.41,92.92 130.15,92.12 130.88,91.28 131.62,90.42 132.35,89.58 133.09,88.78 133.82,88.05 134.56,87.41 135.29,86.90 136.03,86.51 136.76,86.28 137.50,86.20 138.22,86.26 138.95,86.44 139.68,86.74 140.40,87.15 141.12,87.66 141.85,88.26 142.57,88.93 143.30,89.65 144.03,90.42 144.75,91.20 145.47,91.98 146.20,92.75 146.93,93.47 147.65,94.14 148.38,94.74 149.10,95.25 149.82,95.66 150.55,95.96 151.28,96.14 152.00,96.20 152.70,96.14 153.41,95.96 154.11,95.66 154.82,95.24 155.52,94.73 156.23,94.13 156.93,93.45 157.64,92.71 158.34,91.92 159.05,91.11 159.75,90.29 160.46,89.48 161.16,88.69 161.87,87.95 162.57,87.27 163.28,86.67 163.98,86.16 164.69,85.74 165.39,85.44 166.10,85.26 166.80,85.20 167.51,85.23 168.21,85.32 168.92,85.46 169.62,85.66 170.33,85.91 171.04,86.21 171.74,86.56 172.45,86.96 173.16,87.39 173.86,87.87 174.57,88.37 175.28,88.90 175.98,89.46 176.69,90.03 177.39,90.61 178.10,91.20 178.81,91.79 179.51,92.37 180.22,92.94 180.93,93.50 181.63,94.03 182.34,94.53 183.04,95.01 183.75,95.44 184.46,95.84 185.16,96.19 185.87,96.49 186.58,96.74 187.28,96.94 187.99,97.08 188.69,97.17 189.40,97.20 190.11,97.17 190.83,97.09 191.54,96.96 192.25,96.78 192.96,96.55 193.68,96.27 194.39,95.95 195.10,95.58 195.82,95.18 196.53,94.75 197.24,94.29 197.95,93.81 198.67,93.30 199.38,92.79 200.09,92.26 200.81,91.74 201.52,91.21 202.23,90.70 202.95,90.19 203.66,89.71 204.37,89.25 205.08,88.82 205.80,88.42 206.51,88.05 207.22,87.73 207.94,87.45 208.65,87.22 209.36,87.04 210.07,86.91 210.79,86.83 211.50,86.80 212.21,86.82 212.92,86.87 213.63,86.97 214.34,87.09 215.05,87.26 215.76,87.45 216.47,87.68 217.18,87.95 217.89,88.24 218.60,88.56 219.30,88.91 220.01,89.28 220.72,89.68 221.43,90.10 222.14,90.54 222.85,90.99 223.56,91.45 224.27,91.93 224.98,92.42 225.69,92.91 226.40,93.40 227.11,93.89 227.82,94.38 228.53,94.87 229.24,95.35 229.95,95.81 230.66,96.07 231.37,97.02 232.08,96.86 232.79,97.66 233.50,97.60 234.20,98.06 234.91,98.91 235.62,98.65 236.33,99.22 237.04,99.32 237.75,99.51 238.46,99.70 239.17,99.62 239.88,100.16 240.59,99.69 241.30,99.81 242.02,99.65 242.74,99.77 243.46,99.78 244.18,100.01 244.90,99.50 245.62,99.14 246.33,99.04 247.05,99.33 247.77,98.44 248.49,98.57 249.21,98.13 249.93,98.05 250.65,97.54 251.37,97.50 252.09,97.09 252.81,96.92 253.53,96.84 254.25,96.37 254.97,95.84 255.68,95.59 256.40,96.03 257.12,95.56 257.84,95.24 258.56,95.68 259.28,95.37 260.00,95.46 260.73,95.60 261.46,95.29 262.19,95.52 262.92,96.12 263.65,95.89 264.38,96.68 265.11,96.60 265.84,97.44 266.57,97.89 267.30,98.51 268.02,98.08 268.74,97.49 269.47,96.92 270.19,96.53 270.91,96.44 271.63,96.07 272.36,95.41 273.08,95.64 273.80,95.01 274.52,94.79 275.24,94.09 275.97,93.75 276.69,93.24 277.41,93.11 278.13,92.70 278.86,92.46 279.58,92.07 280.30,91.80" fill="none" stroke="#c03838" stroke-width="1.25" stroke-linejoin="round"/>
<polyline points="47.10,92.53 47.90,87.03 50.97,84.53 51.78,84.09 52.58,82.94 53.38,81.52 54.18,80.37 54.99,79.93 55.71,80.24 56.43,81.10 57.15,82.27 57.88,83.44 58.60,84.30 59.32,84.62 60.10,84.30 60.89,83.42 61.67,82.23 62.45,81.03 63.24,80.16 64.02,79.84 64.75,80.08 65.48,80.75 66.21,81.73 66.94,82.82 67.67,83.80 68.40,84.47 69.12,84.71 69.92,84.47 70.72,83.78 71.51,82.78 72.31,81.67 73.10,80.67 73.90,79.98 74.70,79.73 75.46,79.92 76.22,80.48 76.99,81.30 77.75,82.28 78.51,83.26 79.28,84.08 80.04,84.64 80.80,84.83 81.55,84.67 82.29,84.22 83.04,83.52 83.79,82.67 84.53,81.76 85.28,80.91 86.03,80.21 86.77,79.76 87.52,79.60 88.26,79.73 89.00,80.11 89.75,80.71 90.49,81.46 91.23,82.29 91.97,83.12 92.72,83.87 93.46,84.46 94.20,84.84 94.94,84.97 95.70,84.84 96.45,84.46 97.20,83.86 97.95,83.08 98.70,82.20 99.45,81.28 100.20,80.39 100.95,79.62 101.70,79.01 102.45,78.63 103.20,78.50 103.94,78.56 104.68,78.73 105.42,79.02 106.16,79.40 106.89,79.88 107.63,80.42 108.37,81.03 109.11,81.68 109.85,82.35 110.59,83.02 111.33,83.67 112.07,84.28 112.81,84.82 113.54,85.30 114.28,85.68 115.02,85.97 115.76,86.14 116.50,86.20 117.23,86.10 117.95,85.79 118.68,85.28 119.41,84.61 120.13,83.80 120.86,82.88 121.59,81.90 122.31,80.90 123.04,79.92 123.77,79.00 124.49,78.19 125.22,77.52 125.95,77.01 126.67,76.70 127.40,76.60 128.12,76.66 128.85,76.83 129.57,77.11 130.30,77.49 131.02,77.96 131.74,78.52 132.47,79.15 133.19,79.84 133.91,80.57 134.64,81.32 135.36,82.08 136.09,82.83 136.81,83.56 137.53,84.25 138.26,84.88 138.98,85.44 139.70,85.91 140.43,86.29 141.15,86.57 141.88,86.74 142.60,86.80 143.32,86.74 144.05,86.57 144.77,86.28 145.49,85.90 146.21,85.41 146.94,84.83 147.66,84.18 148.38,83.47 149.10,82.71 149.83,81.91 150.55,81.10 151.27,80.29 152.00,79.49 152.72,78.73 153.44,78.02 154.16,77.37 154.89,76.79 155.61,76.30 156.33,75.92 157.05,75.63 157.78,75.46 158.50,75.40 159.22,75.44 159.94,75.57 160.66,75.79 161.38,76.09 162.10,76.46 162.82,76.91 163.53,77.42 164.25,77.99 164.97,78.61 165.69,79.27 166.41,79.96 167.13,80.68 167.85,81.40 168.57,82.12 169.29,82.84 170.01,83.53 170.73,84.19 171.45,84.81 172.17,85.38 172.88,85.89 173.60,86.34 174.32,86.71 175.04,87.01 175.76,87.23 176.48,87.36 177.20,87.40 177.92,87.37 178.63,87.28 179.35,87.13 180.07,86.92 180.79,86.66 181.50,86.34 182.22,85.98 182.94,85.57 183.66,85.12 184.37,84.64 185.09,84.12 185.81,83.59 186.52,83.04 187.24,82.48 187.96,81.92 188.68,81.36 189.39,80.81 190.11,80.28 190.83,79.76 191.54,79.28 192.26,78.83 192.98,78.42 193.70,78.06 194.41,77.74 195.13,77.48 195.85,77.27 196.57,77.12 197.28,77.03 198.00,77.00 198.71,77.02 199.43,77.07 200.14,77.17 200.86,77.30 201.57,77.46 202.29,77.66 203.00,77.89 203.71,78.16 204.43,78.45 205.14,78.78 205.86,79.13 206.57,79.50 207.29,79.90 208.00,80.33 208.71,80.76 209.43,81.22 210.14,81.69 210.86,82.17 211.57,82.66 212.29,83.15 213.00,83.65 213.71,84.15 214.43,84.64 215.14,85.13 215.86,85.61 216.57,86.08 217.29,86.54 218.00,86.97 218.71,87.40 219.43,87.80 220.14,88.17 220.86,88.52 221.57,88.85 222.29,89.14 223.00,89.41 223.71,89.64 224.43,89.84 225.14,90.00 225.86,90.13 226.57,90.23 227.29,90.28 228.00,90.30 228.70,90.28 229.41,90.23 230.11,90.12 230.81,89.94 231.51,89.63 232.22,89.95 232.92,89.14 233.62,89.25 234.32,89.26 235.03,88.39 235.73,88.41 236.43,88.12 237.13,87.36 237.84,87.22 238.54,87.07 239.24,86.49 239.94,86.28 240.65,85.47 241.35,85.12 242.05,84.61 242.76,84.48 243.46,84.37 244.16,83.74 244.86,83.48 245.57,82.84 246.27,82.74 246.97,81.95 247.67,81.77 248.38,81.74 249.08,81.51 249.78,81.06 250.48,80.61 251.19,80.56 251.89,80.37 252.59,80.30 253.29,80.58 254.00,80.11 254.70,80.57 255.43,80.63 256.15,80.26 256.88,80.80 257.61,81.29 258.34,81.42 259.06,82.19 259.79,82.99 260.52,82.84 261.25,83.50 261.97,83.37 262.70,83.76 263.46,84.20 264.21,84.36 264.97,85.14 265.73,86.22 266.49,87.46 267.24,87.73 268.00,88.01 268.72,88.30 269.45,88.62 270.17,88.30 270.89,88.32 271.62,88.54 272.34,88.21 273.06,88.61 273.79,88.39 274.51,88.76 275.24,89.07 275.96,88.49 276.68,88.90 277.41,88.98 278.13,88.70 278.85,88.81 279.58,89.34 280.30,89.00" fill="none" stroke="#a8a830" stroke-width="1.25" stroke-linejoin="round"/>
<polyline points="47.10,78.92 47.90,73.42 51.02,70.92 51.74,71.29 52.46,72.30 53.18,73.67 53.89,75.05 54.61,76.06 55.33,76.42 56.11,76.05 56.89,75.02 57.66,73.62 58.44,72.22 59.22,71.20 60.00,70.83 60.73,71.11 61.46,71.90 62.19,73.04 62.91,74.31 63.64,75.46 64.37,76.25 65.10,76.53 65.90,76.24 66.69,75.43 67.49,74.27 68.29,72.97 69.08,71.81 69.88,71.00 70.68,70.71 71.44,70.94 72.21,71.58 72.97,72.55 73.74,73.68 74.51,74.82 75.27,75.79 76.04,76.43 76.81,76.66 77.56,76.47 78.31,75.94 79.06,75.14 79.81,74.14 80.57,73.08 81.32,72.09 82.07,71.28 82.82,70.75 83.58,70.57 84.33,70.72 85.08,71.17 85.83,71.86 86.58,72.73 87.33,73.69 88.08,74.66 88.83,75.53 89.59,76.22 90.34,76.66 91.09,76.81 91.85,76.68 92.61,76.30 93.38,75.70 94.14,74.94 94.90,74.06 95.66,73.15 96.43,72.27 97.19,71.50 97.95,70.91 98.71,70.53 99.48,70.40 100.20,70.51 100.93,70.86 101.65,71.42 102.38,72.15 103.10,73.01 103.83,73.96 104.55,74.94 105.28,75.89 106.00,76.75 106.73,77.48 107.45,78.04 108.18,78.38 108.90,78.50 109.62,78.38 110.34,78.03 111.06,77.47 111.78,76.71 112.50,75.80 113.22,74.77 113.94,73.66 114.66,72.54 115.38,71.43 116.10,70.40 116.82,69.49 117.54,68.73 118.26,68.17 118.98,67.82 119.70,67.70 120.41,67.77 121.11,67.98 121.82,68.31 122.52,68.78 123.23,69.35 123.93,70.01 124.64,70.75 125.34,71.55 126.05,72.38 126.75,73.22 127.46,74.05 128.16,74.85 128.87,75.59 129.57,76.25 130.28,76.82 130.98,77.29 131.69,77.62 132.39,77.83 133.10,77.90 133.83,77.84 134.56,77.65 135.29,77.34 136.01,76.91 136.74,76.38 137.47,75.75 138.20,75.05 138.93,74.28 139.66,73.47 140.39,72.63 141.11,71.77 141.84,70.93 142.57,70.12 143.30,69.35 144.03,68.65 144.76,68.02 145.49,67.49 146.21,67.06 146.94,66.75 147.67,66.56 148.40,66.50 149.10,66.55 149.81,66.68 150.51,66.90 151.22,67.21 151.92,67.60 152.62,68.06 153.33,68.58 154.03,69.17 154.74,69.80 155.44,70.47 156.14,71.17 156.85,71.89 157.55,72.61 158.26,73.33 158.96,74.03 159.66,74.70 160.37,75.33 161.07,75.92 161.78,76.44 162.48,76.90 163.18,77.29 163.89,77.60 164.59,77.82 165.30,77.95 166.00,78.00 166.71,77.96 167.41,77.86 168.12,77.68 168.83,77.44 169.54,77.13 170.24,76.76 170.95,76.33 171.66,75.85 172.36,75.33 173.07,74.77 173.78,74.18 174.49,73.57 175.19,72.94 175.90,72.30 176.61,71.66 177.31,71.03 178.02,70.42 178.73,69.83 179.44,69.27 180.14,68.75 180.85,68.27 181.56,67.84 182.26,67.47 182.97,67.16 183.68,66.92 184.39,66.74 185.09,66.64 185.80,66.60 186.50,66.62 187.21,66.69 187.91,66.79 188.61,66.95 189.31,67.14 190.02,67.37 190.72,67.64 191.42,67.95 192.12,68.29 192.83,68.66 193.53,69.07 194.23,69.51 194.93,69.97 195.64,70.45 196.34,70.95 197.04,71.47 197.74,72.00 198.45,72.55 199.15,73.10 199.85,73.65 200.55,74.20 201.25,74.75 201.96,75.30 202.66,75.83 203.36,76.35 204.06,76.85 204.77,77.33 205.47,77.79 206.17,78.23 206.88,78.64 207.58,79.01 208.28,79.35 208.98,79.66 209.69,79.93 210.39,80.16 211.09,80.35 211.79,80.51 212.50,80.61 213.20,80.68 213.90,80.70 214.61,80.68 215.33,80.64 216.04,80.56 216.75,80.45 217.47,80.31 218.18,80.14 218.90,79.94 219.61,79.72 220.32,79.46 221.04,79.19 221.75,78.88 222.46,78.56 223.18,78.22 223.89,77.85 224.60,77.47 225.32,77.08 226.03,76.67 226.75,76.25 227.46,75.82 228.17,75.38 228.89,74.94 229.60,74.50 230.31,74.11 231.03,73.57 231.74,73.24 232.45,72.55 233.17,72.55 233.88,72.15 234.60,71.64 235.31,70.91 236.02,70.80 236.74,70.32 237.45,69.94 238.16,70.13 238.88,69.88 239.59,68.97 240.30,69.31 241.02,68.93 241.73,68.61 242.45,68.40 243.16,68.56 243.87,68.33 244.59,68.45 245.30,68.41 246.04,68.09 246.77,68.68 247.50,69.07 248.24,69.39 248.98,69.55 249.71,69.63 250.44,70.14 251.18,70.81 251.92,71.98 252.65,72.16 253.38,72.83 254.12,73.81 254.86,73.99 255.59,74.69 256.32,75.08 257.06,75.23 257.80,75.92 258.53,76.35 259.26,76.01 260.00,76.11 260.71,76.32 261.41,76.31 262.12,77.05 262.82,77.83 263.53,78.40 264.24,79.09 264.94,80.18 265.65,80.59 266.35,81.81 267.06,82.58 267.76,83.60 268.47,84.04 269.18,85.19 269.88,85.27 270.59,85.73 271.29,86.43 272.00,86.61 272.75,86.23 273.51,86.14 274.26,85.90 275.02,85.76 275.77,85.82 276.53,85.33 277.28,85.11 278.04,85.19 278.79,84.87 279.55,85.13 280.30,85.00" fill="none" stroke="#4088d0" stroke-width="1.25" stroke-linejoin="round"/>
<polyline points="47.10,73.80 47.90,68.30 50.25,65.80 51.00,65.47 51.76,64.56 52.51,63.33 53.26,62.09 54.01,61.19 54.76,60.86 55.47,61.11 56.17,61.81 56.88,62.81 57.58,63.93 58.28,64.94 58.99,65.64 59.69,65.89 60.46,65.63 61.23,64.92 62.00,63.90 62.78,62.76 63.55,61.73 64.32,61.02 65.09,60.76 65.83,60.96 66.57,61.53 67.32,62.38 68.06,63.38 68.80,64.38 69.54,65.23 70.29,65.79 71.03,65.99 71.76,65.83 72.49,65.37 73.22,64.66 73.95,63.78 74.68,62.86 75.41,61.98 76.14,61.27 76.87,60.81 77.60,60.65 78.33,60.78 79.06,61.17 79.79,61.78 80.52,62.54 81.25,63.38 81.98,64.23 82.71,64.99 83.44,65.60 84.17,65.99 84.90,66.12 85.65,66.01 86.39,65.67 87.13,65.15 87.87,64.48 88.62,63.71 89.36,62.91 90.10,62.15 90.84,61.47 91.59,60.95 92.33,60.62 93.07,60.51 93.78,60.59 94.49,60.84 95.19,61.23 95.90,61.75 96.61,62.37 97.32,63.04 98.02,63.74 98.73,64.42 99.44,65.03 100.15,65.55 100.85,65.95 101.56,66.20 102.27,66.28 103.01,66.18 103.76,65.89 104.50,65.43 105.25,64.81 105.99,64.08 106.74,63.25 107.48,62.39 108.23,61.52 108.97,60.70 109.72,59.96 110.46,59.35 111.21,58.89 111.95,58.60 112.70,58.50 113.43,58.56 114.15,58.76 114.88,59.07 115.61,59.50 116.33,60.03 117.06,60.65 117.78,61.34 118.51,62.08 119.24,62.86 119.96,63.64 120.69,64.42 121.42,65.16 122.14,65.85 122.87,66.47 123.59,67.00 124.32,67.43 125.05,67.74 125.77,67.94 126.50,68.00 127.21,67.92 127.92,67.69 128.63,67.31 129.34,66.80 130.05,66.16 130.76,65.42 131.47,64.59 132.18,63.70 132.89,62.77 133.61,61.83 134.32,60.90 135.03,60.01 135.74,59.18 136.45,58.44 137.16,57.80 137.87,57.29 138.58,56.91 139.29,56.68 140.00,56.60 140.73,56.66 141.45,56.84 142.18,57.13 142.91,57.54 143.64,58.04 144.36,58.64 145.09,59.31 145.82,60.05 146.55,60.84 147.27,61.66 148.00,62.50 148.73,63.34 149.45,64.16 150.18,64.95 150.91,65.69 151.64,66.36 152.36,66.96 153.09,67.46 153.82,67.87 154.55,68.16 155.27,68.34 156.00,68.40 156.71,68.37 157.41,68.27 158.12,68.11 158.83,67.89 159.53,67.62 160.24,67.28 160.95,66.90 161.65,66.46 162.36,65.99 163.07,65.48 163.77,64.93 164.48,64.36 165.19,63.77 165.89,63.16 166.60,62.55 167.31,61.94 168.01,61.33 168.72,60.74 169.43,60.17 170.13,59.63 170.84,59.11 171.55,58.64 172.25,58.20 172.96,57.82 173.67,57.48 174.37,57.21 175.08,56.99 175.79,56.83 176.49,56.73 177.20,56.70 177.90,56.72 178.60,56.79 179.31,56.90 180.01,57.05 180.71,57.24 181.41,57.47 182.12,57.75 182.82,58.06 183.52,58.40 184.22,58.78 184.93,59.19 185.63,59.63 186.33,60.09 187.03,60.58 187.74,61.08 188.44,61.61 189.14,62.14 189.84,62.69 190.55,63.24 191.25,63.80 191.95,64.36 192.66,64.91 193.36,65.46 194.06,65.99 194.76,66.52 195.47,67.02 196.17,67.51 196.87,67.97 197.57,68.41 198.28,68.82 198.98,69.20 199.68,69.54 200.38,69.85 201.09,70.13 201.79,70.36 202.49,70.55 203.19,70.70 203.90,70.81 204.60,70.88 205.30,70.90 206.01,70.88 206.71,70.83 207.42,70.74 208.13,70.62 208.84,70.46 209.54,70.28 210.25,70.06 210.96,69.81 211.66,69.53 212.37,69.22 213.08,68.89 213.79,68.53 214.49,68.15 215.20,67.75 215.91,67.33 216.61,66.90 217.32,66.46 218.03,66.00 218.74,65.54 219.44,65.07 220.15,64.60 220.86,64.13 221.56,63.66 222.27,63.20 222.98,62.74 223.69,62.30 224.39,61.87 225.10,61.45 225.81,61.05 226.51,60.67 227.22,60.31 227.93,59.98 228.64,59.67 229.34,59.39 230.05,59.11 230.76,58.97 231.46,59.03 232.17,58.56 232.88,58.46 233.59,58.43 234.29,58.10 235.00,58.31 235.71,58.42 236.43,58.63 237.14,58.29 237.86,58.65 238.57,58.78 239.29,59.61 240.00,59.91 240.71,59.88 241.43,61.02 242.14,61.52 242.86,61.87 243.57,62.43 244.29,62.73 245.00,63.28 245.71,64.31 246.43,64.66 247.14,65.44 247.86,66.16 248.57,66.70 249.29,67.69 250.00,68.34 250.71,69.27 251.43,69.66 252.14,70.34 252.86,70.80 253.57,71.43 254.29,71.77 255.00,72.07 255.71,72.96 256.43,73.28 257.14,73.45 257.86,73.57 258.57,73.45 259.29,73.48 260.00,73.55 260.71,73.48 261.43,74.22 262.14,74.37 262.86,75.22 263.57,75.55 264.29,76.66 265.00,77.34 265.71,77.51 266.43,78.37 267.14,79.51 267.86,79.74 268.57,80.50 269.29,80.34 270.00,80.20 270.74,80.54 271.47,80.49 272.21,79.88 272.94,79.42 273.68,79.19 274.41,79.19 275.15,78.58 275.89,77.67 276.62,77.31 277.36,76.81 278.09,76.45 278.83,76.72 279.56,76.13 280.30,76.30" fill="none" stroke="#20b0c0" stroke-width="1.25" stroke-linejoin="round"/>
<polyline points="47.10,60.01 47.90,54.51 51.53,52.01 52.31,52.42 53.08,53.53 53.85,55.04 54.62,56.56 55.39,57.66 56.16,58.07 56.89,57.76 57.61,56.90 58.33,55.65 59.05,54.26 59.78,53.01 60.50,52.15 61.22,51.84 62.01,52.16 62.81,53.05 63.60,54.34 64.39,55.76 65.18,57.05 65.98,57.94 66.77,58.26 67.53,58.01 68.30,57.29 69.06,56.21 69.83,54.94 70.59,53.68 71.36,52.60 72.12,51.88 72.88,51.63 73.64,51.84 74.39,52.43 75.14,53.34 75.89,54.47 76.65,55.66 77.40,56.78 78.15,57.69 78.90,58.29 79.66,58.49 80.41,58.32 81.17,57.83 81.92,57.05 82.67,56.08 83.43,55.00 84.18,53.92 84.94,52.94 85.69,52.17 86.45,51.67 87.20,51.50 87.94,51.62 88.68,51.97 89.42,52.53 90.17,53.25 90.91,54.09 91.65,55.00 92.39,55.91 93.13,56.75 93.88,57.47 94.62,58.03 95.36,58.38 96.10,58.50 96.81,58.39 97.51,58.08 98.22,57.57 98.93,56.90 99.64,56.09 100.34,55.20 101.05,54.25 101.76,53.30 102.46,52.41 103.17,51.60 103.88,50.93 104.59,50.42 105.29,50.11 106.00,50.00 106.74,50.09 107.47,50.34 108.21,50.76 108.94,51.33 109.68,52.03 110.41,52.83 111.15,53.70 111.88,54.63 112.62,55.57 113.35,56.50 114.09,57.37 114.82,58.17 115.56,58.87 116.29,59.44 117.03,59.86 117.76,60.11 118.50,60.20 119.23,60.12 119.96,59.90 120.69,59.52 121.42,59.02 122.15,58.38 122.88,57.64 123.61,56.81 124.34,55.92 125.07,54.97 125.80,54.00 126.53,53.03 127.26,52.08 127.99,51.19 128.72,50.36 129.45,49.62 130.18,48.98 130.91,48.48 131.64,48.10 132.37,47.88 133.10,47.80 133.81,47.85 134.52,47.99 135.24,48.24 135.95,48.57 136.66,48.98 137.37,49.48 138.08,50.05 138.80,50.68 139.51,51.36 140.22,52.08 140.93,52.84 141.64,53.61 142.36,54.39 143.07,55.16 143.78,55.92 144.49,56.64 145.20,57.32 145.92,57.95 146.63,58.52 147.34,59.02 148.05,59.43 148.76,59.76 149.48,60.01 150.19,60.15 150.90,60.20 151.61,60.15 152.33,59.98 153.04,59.71 153.75,59.34 154.46,58.88 155.18,58.33 155.89,57.70 156.60,57.00 157.31,56.25 158.03,55.46 158.74,54.64 159.45,53.80 160.16,52.96 160.88,52.14 161.59,51.35 162.30,50.60 163.01,49.90 163.72,49.27 164.44,48.72 165.15,48.26 165.86,47.89 166.57,47.62 167.29,47.45 168.00,47.40 168.71,47.42 169.42,47.49 170.12,47.60 170.83,47.76 171.54,47.96 172.25,48.21 172.95,48.49 173.66,48.81 174.37,49.17 175.08,49.57 175.78,49.99 176.49,50.45 177.20,50.92 177.91,51.43 178.62,51.95 179.32,52.49 180.03,53.04 180.74,53.60 181.45,54.17 182.15,54.73 182.86,55.30 183.57,55.86 184.28,56.41 184.98,56.95 185.69,57.47 186.40,57.97 187.11,58.45 187.82,58.91 188.52,59.33 189.23,59.73 189.94,60.09 190.65,60.41 191.35,60.69 192.06,60.94 192.77,61.14 193.48,61.30 194.18,61.41 194.89,61.48 195.60,61.50 196.31,61.48 197.03,61.41 197.74,61.30 198.45,61.15 199.17,60.96 199.88,60.73 200.59,60.45 201.31,60.15 202.02,59.80 202.74,59.43 203.45,59.03 204.16,58.60 204.88,58.15 205.59,57.67 206.30,57.19 207.02,56.69 207.73,56.17 208.44,55.66 209.16,55.14 209.87,54.63 210.58,54.11 211.30,53.61 212.01,53.13 212.72,52.65 213.44,52.20 214.15,51.77 214.86,51.37 215.58,51.00 216.29,50.65 217.01,50.35 217.72,50.07 218.43,49.84 219.15,49.65 219.86,49.50 220.57,49.39 221.29,49.32 222.00,49.30 222.71,49.32 223.41,49.38 224.12,49.47 224.82,49.61 225.53,49.78 226.23,49.99 226.94,50.23 227.65,50.50 228.35,50.80 229.06,51.13 229.76,51.48 230.47,51.83 231.17,52.35 231.88,52.77 232.59,52.82 233.29,53.16 234.00,53.84 234.70,54.21 235.41,55.02 236.11,55.36 236.82,55.72 237.53,56.10 238.23,56.56 238.94,56.57 239.64,57.13 240.35,57.27 241.05,58.09 241.76,57.76 242.47,58.54 243.17,58.22 243.88,58.82 244.58,58.71 245.29,58.86 245.99,59.22 246.70,58.66 247.41,58.71 248.12,59.37 248.83,59.18 249.54,59.02 250.25,59.82 250.96,60.00 251.67,59.66 252.38,60.16 253.09,60.27 253.80,60.74 254.51,61.34 255.22,61.44 255.93,62.26 256.64,62.28 257.35,62.87 258.06,63.85 258.77,64.12 259.48,64.71 260.19,65.44 260.90,65.98 261.61,66.56 262.32,66.98 263.03,68.14 263.74,69.00 264.45,69.71 265.16,70.20 265.87,70.71 266.58,71.44 267.29,72.40 268.00,73.12 268.72,72.18 269.45,71.72 270.17,71.26 270.89,70.82 271.62,70.48 272.34,69.72 273.06,68.84 273.79,68.85 274.51,68.03 275.24,67.54 275.96,66.79 276.68,66.38 277.41,65.81 278.13,65.53 278.85,64.52 279.58,64.28 280.30,63.70" fill="none" stroke="#c88040" stroke-width="1.25" stroke-linejoin="round"/>
<polyline points="47.10,50.53 47.90,45.03 48.93,42.53 49.68,42.90 50.42,43.91 51.17,45.29 51.91,46.67 52.66,47.68 53.40,48.05 54.22,47.67 55.03,46.63 55.84,45.20 56.66,43.78 57.47,42.74 58.29,42.36 59.05,42.65 59.82,43.47 60.58,44.64 61.34,45.95 62.11,47.13 62.87,47.95 63.64,48.24 64.37,48.01 65.11,47.35 65.85,46.36 66.58,45.20 67.32,44.03 68.06,43.04 68.79,42.38 69.53,42.15 70.25,42.34 70.98,42.89 71.70,43.73 72.43,44.76 73.15,45.86 73.88,46.89 74.60,47.73 75.32,48.28 76.05,48.47 76.77,48.31 77.50,47.85 78.22,47.14 78.95,46.24 79.67,45.24 80.40,44.24 81.12,43.33 81.85,42.62 82.57,42.16 83.30,42.00 84.00,42.11 84.70,42.42 85.40,42.92 86.10,43.57 86.80,44.33 87.50,45.15 88.20,45.97 88.90,46.72 89.60,47.38 90.30,47.88 91.00,48.19 91.70,48.30 92.41,48.21 93.13,47.96 93.84,47.56 94.56,47.02 95.27,46.38 95.99,45.66 96.70,44.90 97.41,44.14 98.13,43.42 98.84,42.78 99.56,42.24 100.27,41.84 100.99,41.59 101.70,41.50 102.44,41.61 103.19,41.95 103.93,42.49 104.67,43.21 105.41,44.08 106.16,45.04 106.90,46.05 107.64,47.06 108.39,48.02 109.13,48.89 109.87,49.61 110.61,50.15 111.36,50.49 112.10,50.60 112.82,50.54 113.55,50.35 114.27,50.05 114.99,49.64 115.71,49.12 116.44,48.51 117.16,47.82 117.88,47.06 118.60,46.25 119.33,45.41 120.05,44.55 120.77,43.69 121.50,42.85 122.22,42.04 122.94,41.28 123.66,40.59 124.39,39.98 125.11,39.46 125.83,39.05 126.55,38.75 127.28,38.56 128.00,38.50 128.72,38.55 129.43,38.71 130.15,38.98 130.87,39.34 131.59,39.79 132.30,40.33 133.02,40.93 133.74,41.60 134.46,42.32 135.17,43.08 135.89,43.86 136.61,44.64 137.33,45.42 138.04,46.18 138.76,46.90 139.48,47.57 140.20,48.17 140.91,48.71 141.63,49.16 142.35,49.52 143.07,49.79 143.78,49.95 144.50,50.00 145.21,49.96 145.91,49.83 146.62,49.63 147.33,49.35 148.04,48.99 148.74,48.56 149.45,48.07 150.16,47.52 150.87,46.93 151.57,46.29 152.28,45.61 152.99,44.92 153.70,44.21 154.40,43.49 155.11,42.78 155.82,42.09 156.53,41.41 157.23,40.78 157.94,40.18 158.65,39.63 159.36,39.14 160.06,38.71 160.77,38.35 161.48,38.07 162.19,37.87 162.89,37.74 163.60,37.70 164.31,37.73 165.02,37.83 165.73,37.98 166.44,38.20 167.15,38.48 167.85,38.81 168.56,39.20 169.27,39.63 169.98,40.12 170.69,40.64 171.40,41.20 172.11,41.79 172.82,42.41 173.53,43.05 174.24,43.70 174.95,44.37 175.65,45.03 176.36,45.70 177.07,46.35 177.78,46.99 178.49,47.61 179.20,48.20 179.91,48.76 180.62,49.28 181.33,49.77 182.04,50.20 182.75,50.59 183.45,50.92 184.16,51.20 184.87,51.42 185.58,51.57 186.29,51.67 187.00,51.70 187.71,51.68 188.42,51.62 189.12,51.51 189.83,51.37 190.54,51.18 191.25,50.96 191.96,50.70 192.66,50.40 193.37,50.07 194.08,49.72 194.79,49.33 195.49,48.91 196.20,48.48 196.91,48.02 197.62,47.55 198.33,47.06 199.03,46.56 199.74,46.06 200.45,45.55 201.16,45.04 201.87,44.54 202.57,44.04 203.28,43.55 203.99,43.08 204.70,42.62 205.41,42.19 206.11,41.77 206.82,41.38 207.53,41.03 208.24,40.70 208.94,40.40 209.65,40.14 210.36,39.92 211.07,39.73 211.78,39.59 212.48,39.48 213.19,39.42 213.90,39.40 214.61,39.42 215.33,39.47 216.04,39.55 216.75,39.67 217.47,39.81 218.18,39.99 218.89,40.20 219.60,40.44 220.32,40.71 221.03,41.00 221.74,41.32 222.46,41.67 223.17,42.04 223.88,42.43 224.60,42.83 225.31,43.26 226.02,43.70 226.73,44.16 227.45,44.62 228.16,45.10 228.87,45.58 229.59,46.06 230.30,46.38 231.01,47.17 231.73,47.65 232.44,48.25 233.15,48.26 233.87,48.76 234.58,49.15 235.29,49.65 236.00,50.43 236.72,50.41 237.43,51.08 238.14,51.23 238.86,51.63 239.57,52.05 240.28,52.63 241.00,52.73 241.71,52.56 242.42,52.95 243.13,53.04 243.85,53.69 244.56,53.77 245.27,53.85 245.99,53.91 246.70,53.87 247.40,54.04 248.10,54.01 248.80,53.77 249.50,54.37 250.20,54.34 250.90,54.78 251.60,54.94 252.30,55.16 253.00,55.44 253.70,55.82 254.40,56.06 255.10,56.24 255.80,57.02 256.50,57.26 257.20,57.62 257.90,57.59 258.60,57.63 259.30,57.85 260.00,57.44 260.73,57.87 261.46,57.86 262.19,57.91 262.92,58.26 263.65,58.89 264.38,59.18 265.11,59.86 265.84,60.54 266.57,61.00 267.30,61.44 268.02,61.06 268.74,60.25 269.47,59.61 270.19,58.95 270.91,58.44 271.63,57.60 272.36,57.37 273.08,56.95 273.80,55.92 274.52,55.52 275.24,55.04 275.97,53.78 276.69,53.22 277.41,53.05 278.13,52.44 278.86,51.66 279.58,50.70 280.30,50.30" fill="none" stroke="#18d860" stroke-width="1.25" stroke-linejoin="round"/>
<polyline points="47.10,47.69 47.90,42.19 49.55,39.69 50.34,39.31 51.14,38.29 51.94,36.90 52.73,35.51 53.53,34.49 54.33,34.11 55.07,34.40 55.82,35.20 56.57,36.36 57.32,37.65 58.07,38.81 58.82,39.61 59.57,39.90 60.29,39.67 61.01,39.02 61.74,38.04 62.46,36.89 63.18,35.74 63.91,34.76 64.63,34.11 65.35,33.88 66.06,34.07 66.78,34.61 67.49,35.45 68.20,36.47 68.91,37.56 69.62,38.59 70.34,39.42 71.05,39.97 71.76,40.15 72.47,39.99 73.19,39.52 73.90,38.78 74.62,37.86 75.33,36.83 76.04,35.80 76.76,34.87 77.47,34.14 78.19,33.66 78.90,33.50 79.64,33.61 80.38,33.94 81.12,34.45 81.87,35.12 82.61,35.91 83.35,36.75 84.09,37.59 84.83,38.38 85.58,39.05 86.32,39.56 87.06,39.89 87.80,40.00 88.55,39.86 89.31,39.44 90.06,38.79 90.82,37.95 91.57,37.00 92.33,36.00 93.08,35.05 93.84,34.21 94.59,33.56 95.35,33.14 96.10,33.00 96.84,33.10 97.57,33.40 98.31,33.88 99.04,34.52 99.78,35.29 100.51,36.15 101.25,37.05 101.99,37.95 102.72,38.81 103.46,39.58 104.19,40.22 104.93,40.70 105.66,41.00 106.40,41.10 107.12,41.05 107.83,40.90 108.55,40.65 109.27,40.31 109.99,39.89 110.70,39.39 111.42,38.81 112.14,38.18 112.86,37.51 113.57,36.80 114.29,36.07 115.01,35.33 115.73,34.60 116.44,33.89 117.16,33.22 117.88,32.59 118.60,32.01 119.31,31.51 120.03,31.09 120.75,30.75 121.47,30.50 122.18,30.35 122.90,30.30 123.60,30.37 124.30,30.60 125.00,30.96 125.70,31.46 126.40,32.07 127.10,32.79 127.80,33.60 128.50,34.48 129.20,35.40 129.90,36.35 130.60,37.30 131.30,38.22 132.00,39.10 132.70,39.91 133.40,40.63 134.10,41.24 134.80,41.74 135.50,42.10 136.20,42.33 136.90,42.40 137.60,42.36 138.31,42.24 139.01,42.05 139.71,41.78 140.42,41.44 141.12,41.03 141.82,40.56 142.53,40.04 143.23,39.46 143.93,38.84 144.64,38.18 145.34,37.49 146.04,36.78 146.75,36.06 147.45,35.34 148.16,34.62 148.86,33.91 149.56,33.22 150.27,32.56 150.97,31.94 151.67,31.36 152.38,30.84 153.08,30.37 153.78,29.96 154.49,29.62 155.19,29.35 155.89,29.16 156.60,29.04 157.30,29.00 158.00,29.04 158.71,29.15 159.41,29.33 160.11,29.58 160.82,29.90 161.52,30.29 162.22,30.73 162.93,31.23 163.63,31.78 164.33,32.38 165.04,33.00 165.74,33.66 166.44,34.35 167.15,35.04 167.85,35.75 168.55,36.46 169.26,37.15 169.96,37.84 170.66,38.50 171.37,39.12 172.07,39.72 172.77,40.27 173.48,40.77 174.18,41.21 174.88,41.60 175.59,41.92 176.29,42.17 176.99,42.35 177.70,42.46 178.40,42.50 179.11,42.48 179.81,42.43 180.52,42.34 181.22,42.22 181.93,42.06 182.63,41.87 183.34,41.65 184.04,41.39 184.75,41.11 185.45,40.80 186.16,40.47 186.86,40.11 187.56,39.73 188.27,39.33 188.97,38.92 189.68,38.49 190.38,38.05 191.09,37.61 191.79,37.16 192.50,36.70 193.21,36.24 193.91,35.79 194.62,35.35 195.32,34.91 196.03,34.48 196.73,34.07 197.44,33.67 198.14,33.29 198.84,32.93 199.55,32.60 200.25,32.29 200.96,32.01 201.66,31.75 202.37,31.53 203.07,31.34 203.78,31.18 204.48,31.06 205.19,30.97 205.89,30.92 206.60,30.90 207.31,30.92 208.02,30.97 208.73,31.05 209.44,31.17 210.15,31.33 210.86,31.51 211.57,31.73 212.29,31.97 213.00,32.25 213.71,32.56 214.42,32.89 215.13,33.25 215.84,33.63 216.55,34.03 217.26,34.46 217.97,34.90 218.68,35.36 219.39,35.83 220.10,36.32 220.81,36.81 221.52,37.32 222.23,37.83 222.94,38.34 223.66,38.86 224.37,39.37 225.08,39.88 225.79,40.39 226.50,40.88 227.21,41.37 227.92,41.84 228.63,42.30 229.34,42.74 230.05,42.89 230.76,43.71 231.47,44.06 232.18,44.62 232.89,44.48 233.60,44.78 234.31,45.39 235.03,45.58 235.74,45.55 236.45,46.00 237.16,45.95 237.87,46.34 238.58,45.96 239.29,46.09 240.00,46.58 240.73,46.20 241.45,46.13 242.18,46.50 242.91,46.37 243.64,46.02 244.36,46.28 245.09,46.35 245.82,45.98 246.55,46.30 247.27,45.91 248.00,46.04 248.73,45.84 249.45,45.90 250.18,46.42 250.91,46.00 251.64,46.40 252.36,45.99 253.09,46.10 253.82,46.27 254.55,46.14 255.27,45.73 256.00,46.06 256.71,46.12 257.43,45.87 258.14,45.93 258.85,46.63 259.57,46.59 260.28,46.61 260.99,47.07 261.71,47.23 262.42,47.98 263.13,48.15 263.85,48.27 264.56,49.19 265.27,49.12 265.99,49.70 266.70,49.97 267.42,49.84 268.13,48.77 268.85,48.42 269.56,47.49 270.28,47.13 270.99,46.64 271.71,45.90 272.43,45.22 273.14,44.61 273.86,43.94 274.57,43.42 275.29,42.44 276.01,42.07 276.72,41.27 277.44,41.08 278.15,40.50 278.87,39.26 279.58,38.68 280.30,38.30" fill="none" stroke="#f04898" stroke-width="1.25" stroke-linejoin="round"/>
<polyline points="47.10,32.70 47.90,27.20 51.81,24.70 52.54,25.04 53.27,25.99 53.99,27.36 54.72,28.88 55.44,30.25 56.17,31.20 56.90,31.54 57.70,31.19 58.50,30.20 59.30,28.77 60.10,27.18 60.90,25.75 61.70,24.76 62.50,24.40 63.27,24.69 64.05,25.50 64.82,26.71 65.60,28.14 66.37,29.57 67.15,30.78 67.92,31.59 68.70,31.87 69.46,31.64 70.23,30.97 71.00,29.95 71.76,28.70 72.53,27.37 73.30,26.12 74.07,25.10 74.83,24.43 75.60,24.20 76.35,24.35 77.11,24.78 77.86,25.46 78.62,26.33 79.37,27.33 80.13,28.37 80.88,29.37 81.64,30.24 82.39,30.92 83.15,31.35 83.90,31.50 84.64,31.36 85.38,30.96 86.12,30.33 86.87,29.50 87.61,28.54 88.35,27.50 89.09,26.46 89.83,25.50 90.58,24.67 91.32,24.04 92.06,23.64 92.80,23.50 93.51,23.60 94.23,23.90 94.94,24.39 95.65,25.04 96.37,25.82 97.08,26.71 97.79,27.66 98.51,28.64 99.22,29.59 99.93,30.47 100.65,31.26 101.36,31.91 102.07,32.40 102.79,32.70 103.50,32.80 104.24,32.70 104.97,32.39 105.71,31.89 106.45,31.22 107.19,30.40 107.92,29.47 108.66,28.45 109.40,27.40 110.14,26.35 110.88,25.33 111.61,24.40 112.35,23.58 113.09,22.91 113.83,22.41 114.56,22.10 115.30,22.00 116.01,22.04 116.72,22.17 117.44,22.38 118.15,22.67 118.86,23.03 119.57,23.46 120.28,23.96 121.00,24.51 121.71,25.10 122.42,25.73 123.13,26.39 123.84,27.06 124.56,27.74 125.27,28.41 125.98,29.07 126.69,29.70 127.40,30.29 128.12,30.84 128.83,31.34 129.54,31.77 130.25,32.13 130.96,32.42 131.68,32.63 132.39,32.76 133.10,32.80 133.81,32.75 134.52,32.61 135.24,32.38 135.95,32.05 136.66,31.64 137.37,31.16 138.08,30.61 138.80,29.99 139.51,29.33 140.22,28.62 140.93,27.88 141.64,27.13 142.36,26.37 143.07,25.62 143.78,24.88 144.49,24.17 145.20,23.51 145.92,22.89 146.63,22.34 147.34,21.86 148.05,21.45 148.76,21.12 149.48,20.89 150.19,20.75 150.90,20.70 151.61,20.73 152.32,20.82 153.03,20.97 153.74,21.18 154.45,21.44 155.16,21.76 155.87,22.13 156.57,22.55 157.28,23.00 157.99,23.50 158.70,24.03 159.41,24.59 160.12,25.17 160.83,25.77 161.54,26.38 162.25,27.00 162.96,27.62 163.67,28.23 164.38,28.83 165.09,29.41 165.80,29.97 166.51,30.50 167.22,31.00 167.93,31.45 168.63,31.87 169.34,32.24 170.05,32.56 170.76,32.82 171.47,33.03 172.18,33.18 172.89,33.27 173.60,33.30 174.31,33.28 175.02,33.22 175.72,33.12 176.43,32.99 177.14,32.81 177.85,32.60 178.56,32.36 179.26,32.08 179.97,31.77 180.68,31.43 181.39,31.06 182.09,30.67 182.80,30.26 183.51,29.83 184.22,29.38 184.93,28.92 185.63,28.45 186.34,27.98 187.05,27.50 187.76,27.02 188.47,26.55 189.17,26.08 189.88,25.62 190.59,25.17 191.30,24.74 192.01,24.33 192.71,23.94 193.42,23.57 194.13,23.23 194.84,22.92 195.54,22.64 196.25,22.40 196.96,22.19 197.67,22.01 198.38,21.88 199.08,21.78 199.79,21.72 200.50,21.70 201.21,21.72 201.92,21.76 202.63,21.84 203.34,21.94 204.05,22.07 204.76,22.24 205.47,22.43 206.18,22.65 206.89,22.89 207.60,23.16 208.31,23.46 209.02,23.77 209.73,24.11 210.44,24.47 211.15,24.85 211.86,25.25 212.57,25.66 213.28,26.09 213.99,26.53 214.70,26.99 215.41,27.45 216.12,27.92 216.83,28.39 217.54,28.87 218.25,29.35 218.96,29.83 219.67,30.31 220.38,30.78 221.09,31.25 221.80,31.71 222.51,32.17 223.22,32.61 223.93,33.04 224.64,33.45 225.35,33.85 226.06,34.23 226.77,34.59 227.48,34.93 228.19,35.24 228.90,35.54 229.61,35.81 230.32,36.38 231.03,35.93 231.74,36.63 232.45,36.39 233.16,37.10 233.87,36.53 234.58,37.21 235.29,37.11 236.00,37.25 236.71,37.34 237.42,36.77 238.13,36.79 238.84,36.97 239.55,36.58 240.26,36.45 240.97,36.30 241.68,36.59 242.39,36.44 243.10,36.21 243.81,35.62 244.52,35.92 245.23,35.42 245.94,35.02 246.65,34.97 247.36,34.73 248.07,34.29 248.78,34.43 249.49,34.09 250.20,34.05 250.91,34.13 251.62,33.76 252.33,33.45 253.04,33.64 253.75,33.61 254.46,33.17 255.17,33.41 255.88,32.71 256.59,32.76 257.30,32.77 258.01,33.34 258.73,33.28 259.44,33.49 260.16,33.44 260.87,33.92 261.59,34.58 262.30,34.48 263.01,34.99 263.73,35.49 264.44,36.37 265.16,37.26 265.87,37.70 266.59,38.26 267.30,39.00 268.02,38.11 268.74,37.98 269.47,36.90 270.19,36.15 270.91,35.53 271.63,35.23 272.36,34.21 273.08,33.95 273.80,32.89 274.52,32.29 275.24,31.37 275.97,31.29 276.69,30.54 277.41,29.65 278.13,28.73 278.86,28.33 279.58,27.58 280.30,27.00" fill="none" stroke="#20c8e0" stroke-width="1.25" stroke-linejoin="round"/>
<rect x="47.5" y="11.5" width="232.80" height="173.40" fill="none" stroke="#333" stroke-width="1.4"/>
<path d="M47.50,184.90 V187.10 M45.70,184.90 H47.50" stroke="#333" stroke-width="1.3"/>
<line x1="80.76" y1="184.9" x2="80.76" y2="188.10" stroke="#333" stroke-width="1.2"/>
<text x="80.76" y="202.50" font-family="Liberation Serif" font-size="10.8" text-anchor="middle" fill="#111" stroke="#111" stroke-width="0.15">400</text>
<line x1="147.27" y1="184.9" x2="147.27" y2="188.10" stroke="#333" stroke-width="1.2"/>
<text x="147.27" y="202.50" font-family="Liberation Serif" font-size="10.8" text-anchor="middle" fill="#111" stroke="#111" stroke-width="0.15">600</text>
<line x1="213.79" y1="184.9" x2="213.79" y2="188.10" stroke="#333" stroke-width="1.2"/>
<text x="213.79" y="202.50" font-family="Liberation Serif" font-size="10.8" text-anchor="middle" fill="#111" stroke="#111" stroke-width="0.15">800</text>
<line x1="280.30" y1="184.9" x2="280.30" y2="188.10" stroke="#333" stroke-width="1.2"/>
<text x="280.30" y="202.50" font-family="Liberation Serif" font-size="10.8" text-anchor="middle" fill="#111" stroke="#111" stroke-width="0.15">1000</text>
<line x1="114.01" y1="184.9" x2="114.01" y2="186.90" stroke="#333" stroke-width="1.1"/>
<line x1="180.53" y1="184.9" x2="180.53" y2="186.90" stroke="#333" stroke-width="1.1"/>
<line x1="247.04" y1="184.9" x2="247.04" y2="186.90" stroke="#333" stroke-width="1.1"/>
<line x1="44.30" y1="160.13" x2="47.5" y2="160.13" stroke="#333" stroke-width="1.2"/>
<text x="41.30" y="163.83" font-family="Liberation Serif" font-size="10.8" text-anchor="end" fill="#111" stroke="#111" stroke-width="0.15">50</text>
<line x1="44.30" y1="110.59" x2="47.5" y2="110.59" stroke="#333" stroke-width="1.2"/>
<text x="41.30" y="114.29" font-family="Liberation Serif" font-size="10.8" text-anchor="end" fill="#111" stroke="#111" stroke-width="0.15">100</text>
<line x1="44.30" y1="61.04" x2="47.5" y2="61.04" stroke="#333" stroke-width="1.2"/>
<text x="41.30" y="64.74" font-family="Liberation Serif" font-size="10.8" text-anchor="end" fill="#111" stroke="#111" stroke-width="0.15">150</text>
<line x1="44.30" y1="11.50" x2="47.5" y2="11.50" stroke="#333" stroke-width="1.2"/>
<text x="41.30" y="15.20" font-family="Liberation Serif" font-size="10.8" text-anchor="end" fill="#111" stroke="#111" stroke-width="0.15">200</text>
<line x1="45.50" y1="135.36" x2="47.5" y2="135.36" stroke="#333" stroke-width="1.1"/>
<line x1="45.50" y1="85.81" x2="47.5" y2="85.81" stroke="#333" stroke-width="1.1"/>
<line x1="45.50" y1="36.27" x2="47.5" y2="36.27" stroke="#333" stroke-width="1.1"/>
<text x="167.00" y="218.00" font-family="Liberation Serif" font-size="14" text-anchor="middle" fill="#111" stroke="#111" stroke-width="0.15">Wavelength (nm)</text>
<text transform="translate(19,99.5) rotate(-90)" font-family="Liberation Serif" font-size="13.8" text-anchor="middle" fill="#111" stroke="#111" stroke-width="0.15">Intensity (a.u.)</text>
<line x1="105" y1="26" x2="257" y2="177" stroke="#222" stroke-width="1.1"/>
<path d="M102.4,23.3 L108.2,26.1 L105.2,29.2 Z" fill="#222"/>
<text x="106.70" y="22.50" font-family="Liberation Serif" font-size="10.5" text-anchor="middle" fill="#111" stroke="#111" stroke-width="0.15">60°C</text>
<text x="262.00" y="183.00" font-family="Liberation Serif" font-size="11" text-anchor="middle" fill="#111" stroke="#111" stroke-width="0.15">2°C</text>
<text x="12.35" y="22.00" font-family="Liberation Sans" font-size="17.5" text-anchor="middle" fill="#111" stroke="#111" stroke-width="0.15">A</text>
<rect x="332" y="10" width="211.70" height="170.10" fill="none" stroke="#333" stroke-width="1.4"/>
<path d="M332.00,180.10 V182.30 M330.20,180.10 H332.00" stroke="#333" stroke-width="1.3"/>
<line x1="347.12" y1="180.1" x2="347.12" y2="183.30" stroke="#333" stroke-width="1.2"/>
<text x="347.12" y="194.60" font-family="Liberation Serif" font-size="11.5" text-anchor="middle" fill="#111" stroke="#111" stroke-width="0.15">0</text>
<line x1="377.36" y1="180.1" x2="377.36" y2="183.30" stroke="#333" stroke-width="1.2"/>
<text x="377.36" y="194.60" font-family="Liberation Serif" font-size="11.5" text-anchor="middle" fill="#111" stroke="#111" stroke-width="0.15">10</text>
<line x1="407.61" y1="180.1" x2="407.61" y2="183.30" stroke="#333" stroke-width="1.2"/>
<text x="407.61" y="194.60" font-family="Liberation Serif" font-size="11.5" text-anchor="middle" fill="#111" stroke="#111" stroke-width="0.15">20</text>
<line x1="437.85" y1="180.1" x2="437.85" y2="183.30" stroke="#333" stroke-width="1.2"/>
<text x="437.85" y="194.60" font-family="Liberation Serif" font-size="11.5" text-anchor="middle" fill="#111" stroke="#111" stroke-width="0.15">30</text>
<line x1="468.09" y1="180.1" x2="468.09" y2="183.30" stroke="#333" stroke-width="1.2"/>
<text x="468.09" y="194.60" font-family="Liberation Serif" font-size="11.5" text-anchor="middle" fill="#111" stroke="#111" stroke-width="0.15">40</text>
<line x1="498.34" y1="180.1" x2="498.34" y2="183.30" stroke="#333" stroke-width="1.2"/>
<text x="498.34" y="194.60" font-family="Liberation Serif" font-size="11.5" text-anchor="middle" fill="#111" stroke="#111" stroke-width="0.15">50</text>
<line x1="528.58" y1="180.1" x2="528.58" y2="183.30" stroke="#333" stroke-width="1.2"/>
<text x="528.58" y="194.60" font-family="Liberation Serif" font-size="11.5" text-anchor="middle" fill="#111" stroke="#111" stroke-width="0.15">60</text>
<line x1="362.24" y1="180.1" x2="362.24" y2="182.10" stroke="#333" stroke-width="1.1"/>
<line x1="392.49" y1="180.1" x2="392.49" y2="182.10" stroke="#333" stroke-width="1.1"/>
<line x1="422.73" y1="180.1" x2="422.73" y2="182.10" stroke="#333" stroke-width="1.1"/>
<line x1="452.97" y1="180.1" x2="452.97" y2="182.10" stroke="#333" stroke-width="1.1"/>
<line x1="483.21" y1="180.1" x2="483.21" y2="182.10" stroke="#333" stroke-width="1.1"/>
<line x1="513.46" y1="180.1" x2="513.46" y2="182.10" stroke="#333" stroke-width="1.1"/>
<line x1="328.80" y1="151.75" x2="332" y2="151.75" stroke="#333" stroke-width="1.2"/>
<text x="326.00" y="155.55" font-family="Liberation Serif" font-size="11.5" text-anchor="end" fill="#111" stroke="#111" stroke-width="0.15">0.4</text>
<line x1="328.80" y1="113.95" x2="332" y2="113.95" stroke="#333" stroke-width="1.2"/>
<text x="326.00" y="117.75" font-family="Liberation Serif" font-size="11.5" text-anchor="end" fill="#111" stroke="#111" stroke-width="0.15">0.8</text>
<line x1="328.80" y1="76.15" x2="332" y2="76.15" stroke="#333" stroke-width="1.2"/>
<text x="326.00" y="79.95" font-family="Liberation Serif" font-size="11.5" text-anchor="end" fill="#111" stroke="#111" stroke-width="0.15">1.2</text>
<line x1="328.80" y1="38.35" x2="332" y2="38.35" stroke="#333" stroke-width="1.2"/>
<text x="326.00" y="42.15" font-family="Liberation Serif" font-size="11.5" text-anchor="end" fill="#111" stroke="#111" stroke-width="0.15">1.6</text>
<line x1="330.00" y1="170.65" x2="332" y2="170.65" stroke="#333" stroke-width="1.1"/>
<line x1="330.00" y1="132.85" x2="332" y2="132.85" stroke="#333" stroke-width="1.1"/>
<line x1="330.00" y1="95.05" x2="332" y2="95.05" stroke="#333" stroke-width="1.1"/>
<line x1="330.00" y1="57.25" x2="332" y2="57.25" stroke="#333" stroke-width="1.1"/>
<line x1="330.00" y1="19.45" x2="332" y2="19.45" stroke="#333" stroke-width="1.1"/>
<text x="301.25" y="22.40" font-family="Liberation Sans" font-size="18.8" text-anchor="middle" fill="#111" stroke="#111" stroke-width="0.15">B</text>
<path d="M387.96,54.30 H390.96 M389.46,54.30 V65.70 M387.96,65.70 H390.96" stroke="#555" stroke-width="0.8" fill="none"/>
<path d="M436.35,96.60 H439.35 M437.85,96.60 V108.60 M436.35,108.60 H439.35" stroke="#555" stroke-width="0.8" fill="none"/>
<path d="M472.64,125.00 H475.64 M474.14,125.00 V131.40 M472.64,131.40 H475.64" stroke="#555" stroke-width="0.8" fill="none"/>
<path d="M484.74,132.00 H487.74 M486.24,132.00 V139.40 M484.74,139.40 H487.74" stroke="#555" stroke-width="0.8" fill="none"/>
<path d="M496.84,138.60 H499.84 M498.34,138.60 V147.00 M496.84,147.00 H499.84" stroke="#555" stroke-width="0.8" fill="none"/>
<rect x="350.57" y="24.10" width="5.2" height="5.2" fill="#000"/>
<rect x="356.62" y="28.10" width="5.2" height="5.2" fill="#000"/>
<rect x="362.67" y="34.50" width="5.2" height="5.2" fill="#000"/>
<rect x="368.72" y="40.40" width="5.2" height="5.2" fill="#000"/>
<rect x="374.76" y="45.50" width="5.2" height="5.2" fill="#000"/>
<rect x="380.81" y="52.10" width="5.2" height="5.2" fill="#000"/>
<rect x="386.86" y="57.80" width="5.2" height="5.2" fill="#000"/>
<rect x="392.91" y="63.40" width="5.2" height="5.2" fill="#000"/>
<rect x="398.96" y="69.70" width="5.2" height="5.2" fill="#000"/>
<rect x="405.01" y="75.70" width="5.2" height="5.2" fill="#000"/>
<rect x="411.06" y="80.10" width="5.2" height="5.2" fill="#000"/>
<rect x="417.10" y="84.80" width="5.2" height="5.2" fill="#000"/>
<rect x="423.15" y="90.80" width="5.2" height="5.2" fill="#000"/>
<rect x="429.20" y="96.00" width="5.2" height="5.2" fill="#000"/>
<rect x="435.25" y="100.00" width="5.2" height="5.2" fill="#000"/>
<rect x="441.30" y="104.00" width="5.2" height="5.2" fill="#000"/>
<rect x="447.35" y="107.00" width="5.2" height="5.2" fill="#000"/>
<rect x="453.40" y="112.00" width="5.2" height="5.2" fill="#000"/>
<rect x="459.44" y="116.40" width="5.2" height="5.2" fill="#000"/>
<rect x="465.49" y="120.40" width="5.2" height="5.2" fill="#000"/>
<rect x="471.54" y="125.40" width="5.2" height="5.2" fill="#000"/>
<rect x="477.59" y="129.40" width="5.2" height="5.2" fill="#000"/>
<rect x="483.64" y="133.00" width="5.2" height="5.2" fill="#000"/>
<rect x="489.69" y="137.40" width="5.2" height="5.2" fill="#000"/>
<rect x="495.74" y="140.00" width="5.2" height="5.2" fill="#000"/>
<rect x="501.78" y="144.00" width="5.2" height="5.2" fill="#000"/>
<rect x="507.83" y="146.00" width="5.2" height="5.2" fill="#000"/>
<rect x="513.88" y="149.40" width="5.2" height="5.2" fill="#000"/>
<rect x="519.93" y="152.80" width="5.2" height="5.2" fill="#000"/>
<rect x="525.98" y="157.40" width="5.2" height="5.2" fill="#000"/>
<rect x="411.6" y="14" width="111" height="14.5" fill="#fff" stroke="#999" stroke-width="0.9"/>
<rect x="419.70" y="20.20" width="4.6" height="4.6" fill="#000"/>
<text x="433.00" y="25.30" font-family="Liberation Serif" font-size="11.1" text-anchor="start" fill="#111" stroke="#111" stroke-width="0.15">3-AAPBA-10mol%</text>
<text transform="translate(304,94.3) rotate(-90)" font-family="Liberation Serif" font-size="14" text-anchor="middle" fill="#111" stroke="#111" stroke-width="0.15">SD<tspan font-size="13" dy="3">e</tspan></text>
<text x="437.50" y="215.00" font-family="Liberation Serif" font-size="14.5" text-anchor="middle" fill="#111" stroke="#111" stroke-width="0.15">T(°C)</text>
<rect x="52.2" y="220.3" width="231.60" height="186.10" fill="none" stroke="#333" stroke-width="1.4"/>
<path d="M52.20,406.40 V408.60 M50.40,406.40 H52.20" stroke="#333" stroke-width="1.3"/>
<line x1="68.74" y1="406.4" x2="68.74" y2="409.60" stroke="#333" stroke-width="1.2"/>
<text x="68.74" y="422.00" font-family="Liberation Serif" font-size="12" text-anchor="middle" fill="#111" stroke="#111" stroke-width="0.15">0</text>
<line x1="101.83" y1="406.4" x2="101.83" y2="409.60" stroke="#333" stroke-width="1.2"/>
<text x="101.83" y="422.00" font-family="Liberation Serif" font-size="12" text-anchor="middle" fill="#111" stroke="#111" stroke-width="0.15">10</text>
<line x1="134.91" y1="406.4" x2="134.91" y2="409.60" stroke="#333" stroke-width="1.2"/>
<text x="134.91" y="422.00" font-family="Liberation Serif" font-size="12" text-anchor="middle" fill="#111" stroke="#111" stroke-width="0.15">20</text>
<line x1="168.00" y1="406.4" x2="168.00" y2="409.60" stroke="#333" stroke-width="1.2"/>
<text x="168.00" y="422.00" font-family="Liberation Serif" font-size="12" text-anchor="middle" fill="#111" stroke="#111" stroke-width="0.15">30</text>
<line x1="201.09" y1="406.4" x2="201.09" y2="409.60" stroke="#333" stroke-width="1.2"/>
<text x="201.09" y="422.00" font-family="Liberation Serif" font-size="12" text-anchor="middle" fill="#111" stroke="#111" stroke-width="0.15">40</text>
<line x1="234.17" y1="406.4" x2="234.17" y2="409.60" stroke="#333" stroke-width="1.2"/>
<text x="234.17" y="422.00" font-family="Liberation Serif" font-size="12" text-anchor="middle" fill="#111" stroke="#111" stroke-width="0.15">50</text>
<line x1="267.26" y1="406.4" x2="267.26" y2="409.60" stroke="#333" stroke-width="1.2"/>
<text x="267.26" y="422.00" font-family="Liberation Serif" font-size="12" text-anchor="middle" fill="#111" stroke="#111" stroke-width="0.15">60</text>
<line x1="85.29" y1="406.4" x2="85.29" y2="408.40" stroke="#333" stroke-width="1.1"/>
<line x1="118.37" y1="406.4" x2="118.37" y2="408.40" stroke="#333" stroke-width="1.1"/>
<line x1="151.46" y1="406.4" x2="151.46" y2="408.40" stroke="#333" stroke-width="1.1"/>
<line x1="184.54" y1="406.4" x2="184.54" y2="408.40" stroke="#333" stroke-width="1.1"/>
<line x1="217.63" y1="406.4" x2="217.63" y2="408.40" stroke="#333" stroke-width="1.1"/>
<line x1="250.71" y1="406.4" x2="250.71" y2="408.40" stroke="#333" stroke-width="1.1"/>
<line x1="49.00" y1="384.51" x2="52.2" y2="384.51" stroke="#333" stroke-width="1.2"/>
<text x="46.50" y="388.51" font-family="Liberation Serif" font-size="12" text-anchor="end" fill="#111" stroke="#111" stroke-width="0.15">0.8</text>
<line x1="49.00" y1="340.72" x2="52.2" y2="340.72" stroke="#333" stroke-width="1.2"/>
<text x="46.50" y="344.72" font-family="Liberation Serif" font-size="12" text-anchor="end" fill="#111" stroke="#111" stroke-width="0.15">1.2</text>
<line x1="49.00" y1="296.93" x2="52.2" y2="296.93" stroke="#333" stroke-width="1.2"/>
<text x="46.50" y="300.93" font-family="Liberation Serif" font-size="12" text-anchor="end" fill="#111" stroke="#111" stroke-width="0.15">1.6</text>
<line x1="49.00" y1="253.14" x2="52.2" y2="253.14" stroke="#333" stroke-width="1.2"/>
<text x="46.50" y="257.14" font-family="Liberation Serif" font-size="12" text-anchor="end" fill="#111" stroke="#111" stroke-width="0.15">2.0</text>
<line x1="50.20" y1="362.61" x2="52.2" y2="362.61" stroke="#333" stroke-width="1.1"/>
<line x1="50.20" y1="318.82" x2="52.2" y2="318.82" stroke="#333" stroke-width="1.1"/>
<line x1="50.20" y1="275.04" x2="52.2" y2="275.04" stroke="#333" stroke-width="1.1"/>
<line x1="50.20" y1="231.25" x2="52.2" y2="231.25" stroke="#333" stroke-width="1.1"/>
<text x="19.85" y="234.70" font-family="Liberation Sans" font-size="21.5" text-anchor="middle" fill="#111" stroke="#111" stroke-width="0.15">C</text>
<text x="166.60" y="441.80" font-family="Liberation Serif" font-size="15.5" text-anchor="middle" fill="#111" stroke="#111" stroke-width="0.15">T (°C)</text>
<text transform="translate(21.6,311.1) rotate(-90)" font-family="Liberation Serif" font-size="16" text-anchor="middle" fill="#111" stroke="#111" stroke-width="0.15">SD</text>
<text transform="translate(26.7,299) rotate(-90)" font-family="Liberation Serif" font-size="9" text-anchor="middle" fill="#111" stroke="#111" stroke-width="0.15">e</text>
<path d="M87.09,240.50 H90.09 M88.59,240.50 V255.00 M87.09,255.00 H90.09" stroke="#ff40ff" stroke-width="0.8" fill="none"/>
<path d="M100.33,249.00 H103.33 M101.83,249.00 V262.00 M100.33,262.00 H103.33" stroke="#ff40ff" stroke-width="0.8" fill="none"/>
<path d="M113.56,257.00 H116.56 M115.06,257.00 V269.00 M113.56,269.00 H116.56" stroke="#ff40ff" stroke-width="0.8" fill="none"/>
<path d="M120.18,262.00 H123.18 M121.68,262.00 V283.00 M120.18,283.00 H123.18" stroke="#ff40ff" stroke-width="0.8" fill="none"/>
<path d="M126.80,265.00 H129.80 M128.30,265.00 V285.00 M126.80,285.00 H129.80" stroke="#ff40ff" stroke-width="0.8" fill="none"/>
<path d="M75.36,242.07 L78.96,235.45 L71.76,235.45 Z" fill="#ff00ff"/>
<path d="M81.98,248.07 L85.58,241.45 L78.38,241.45 Z" fill="#ff00ff"/>
<path d="M88.59,252.07 L92.19,245.45 L84.99,245.45 Z" fill="#ff00ff"/>
<path d="M95.21,258.07 L98.81,251.45 L91.61,251.45 Z" fill="#ff00ff"/>
<path d="M101.83,261.67 L105.43,255.05 L98.23,255.05 Z" fill="#ff00ff"/>
<path d="M108.45,264.97 L112.05,258.35 L104.85,258.35 Z" fill="#ff00ff"/>
<path d="M115.06,267.67 L118.66,261.05 L111.46,261.05 Z" fill="#ff00ff"/>
<path d="M121.68,274.07 L125.28,267.45 L118.08,267.45 Z" fill="#ff00ff"/>
<path d="M128.30,278.57 L131.90,271.95 L124.70,271.95 Z" fill="#ff00ff"/>
<path d="M134.91,285.37 L138.51,278.75 L131.31,278.75 Z" fill="#ff00ff"/>
<path d="M141.53,288.57 L145.13,281.95 L137.93,281.95 Z" fill="#ff00ff"/>
<path d="M148.15,292.97 L151.75,286.35 L144.55,286.35 Z" fill="#ff00ff"/>
<path d="M154.77,297.67 L158.37,291.05 L151.17,291.05 Z" fill="#ff00ff"/>
<path d="M161.38,303.97 L164.98,297.35 L157.78,297.35 Z" fill="#ff00ff"/>
<path d="M168.00,310.47 L171.60,303.85 L164.40,303.85 Z" fill="#ff00ff"/>
<path d="M174.62,313.47 L178.22,306.85 L171.02,306.85 Z" fill="#ff00ff"/>
<path d="M181.23,320.67 L184.83,314.05 L177.63,314.05 Z" fill="#ff00ff"/>
<path d="M187.85,329.47 L191.45,322.85 L184.25,322.85 Z" fill="#ff00ff"/>
<path d="M194.47,336.17 L198.07,329.55 L190.87,329.55 Z" fill="#ff00ff"/>
<path d="M201.09,339.57 L204.69,332.95 L197.49,332.95 Z" fill="#ff00ff"/>
<path d="M207.70,340.47 L211.30,333.85 L204.10,333.85 Z" fill="#ff00ff"/>
<path d="M214.32,346.97 L217.92,340.35 L210.72,340.35 Z" fill="#ff00ff"/>
<path d="M220.94,352.77 L224.54,346.15 L217.34,346.15 Z" fill="#ff00ff"/>
<path d="M227.55,357.37 L231.15,350.75 L223.95,350.75 Z" fill="#ff00ff"/>
<path d="M234.17,362.07 L237.77,355.45 L230.57,355.45 Z" fill="#ff00ff"/>
<path d="M240.79,364.07 L244.39,357.45 L237.19,357.45 Z" fill="#ff00ff"/>
<path d="M247.41,368.27 L251.01,361.65 L243.81,361.65 Z" fill="#ff00ff"/>
<path d="M254.02,375.17 L257.62,368.55 L250.42,368.55 Z" fill="#ff00ff"/>
<path d="M260.64,378.67 L264.24,372.05 L257.04,372.05 Z" fill="#ff00ff"/>
<path d="M267.26,382.77 L270.86,376.15 L263.66,376.15 Z" fill="#ff00ff"/>
<rect x="72.56" y="274.80" width="5.6" height="5.6" fill="#000"/>
<rect x="79.18" y="280.00" width="5.6" height="5.6" fill="#000"/>
<rect x="85.79" y="284.20" width="5.6" height="5.6" fill="#000"/>
<rect x="92.41" y="289.30" width="5.6" height="5.6" fill="#000"/>
<rect x="99.03" y="290.90" width="5.6" height="5.6" fill="#000"/>
<rect x="105.65" y="297.70" width="5.6" height="5.6" fill="#000"/>
<rect x="112.26" y="303.30" width="5.6" height="5.6" fill="#000"/>
<rect x="118.88" y="306.20" width="5.6" height="5.6" fill="#000"/>
<rect x="125.50" y="310.50" width="5.6" height="5.6" fill="#000"/>
<rect x="132.11" y="318.10" width="5.6" height="5.6" fill="#000"/>
<rect x="138.73" y="322.40" width="5.6" height="5.6" fill="#000"/>
<rect x="145.35" y="327.00" width="5.6" height="5.6" fill="#000"/>
<rect x="151.97" y="331.00" width="5.6" height="5.6" fill="#000"/>
<rect x="158.58" y="335.60" width="5.6" height="5.6" fill="#000"/>
<rect x="165.20" y="340.80" width="5.6" height="5.6" fill="#000"/>
<rect x="171.82" y="346.60" width="5.6" height="5.6" fill="#000"/>
<rect x="178.43" y="351.60" width="5.6" height="5.6" fill="#000"/>
<rect x="185.05" y="355.20" width="5.6" height="5.6" fill="#000"/>
<rect x="191.67" y="359.20" width="5.6" height="5.6" fill="#000"/>
<rect x="198.29" y="363.90" width="5.6" height="5.6" fill="#000"/>
<rect x="204.90" y="367.20" width="5.6" height="5.6" fill="#000"/>
<rect x="211.52" y="371.20" width="5.6" height="5.6" fill="#000"/>
<rect x="218.14" y="375.20" width="5.6" height="5.6" fill="#000"/>
<rect x="224.75" y="378.20" width="5.6" height="5.6" fill="#000"/>
<rect x="231.37" y="381.50" width="5.6" height="5.6" fill="#000"/>
<rect x="237.99" y="384.40" width="5.6" height="5.6" fill="#000"/>
<rect x="244.61" y="387.20" width="5.6" height="5.6" fill="#000"/>
<rect x="251.22" y="390.10" width="5.6" height="5.6" fill="#000"/>
<rect x="257.84" y="391.90" width="5.6" height="5.6" fill="#000"/>
<rect x="264.46" y="392.70" width="5.6" height="5.6" fill="#000"/>
<circle cx="75.36" cy="286.70" r="3.1" fill="#ff0000"/>
<circle cx="81.98" cy="290.80" r="3.1" fill="#ff0000"/>
<circle cx="88.59" cy="297.60" r="3.1" fill="#ff0000"/>
<circle cx="95.21" cy="301.70" r="3.1" fill="#ff0000"/>
<circle cx="101.83" cy="306.40" r="3.1" fill="#ff0000"/>
<circle cx="108.45" cy="311.50" r="3.1" fill="#ff0000"/>
<circle cx="115.06" cy="316.30" r="3.1" fill="#ff0000"/>
<circle cx="121.68" cy="320.60" r="3.1" fill="#ff0000"/>
<circle cx="128.30" cy="324.10" r="3.1" fill="#ff0000"/>
<circle cx="134.91" cy="328.00" r="3.1" fill="#ff0000"/>
<circle cx="141.53" cy="331.70" r="3.1" fill="#ff0000"/>
<circle cx="148.15" cy="333.20" r="3.1" fill="#ff0000"/>
<circle cx="154.77" cy="336.50" r="3.1" fill="#ff0000"/>
<circle cx="161.38" cy="340.60" r="3.1" fill="#ff0000"/>
<circle cx="168.00" cy="346.50" r="3.1" fill="#ff0000"/>
<circle cx="174.62" cy="349.40" r="3.1" fill="#ff0000"/>
<circle cx="181.23" cy="350.70" r="3.1" fill="#ff0000"/>
<circle cx="187.85" cy="354.30" r="3.1" fill="#ff0000"/>
<circle cx="194.47" cy="358.10" r="3.1" fill="#ff0000"/>
<circle cx="201.09" cy="359.90" r="3.1" fill="#ff0000"/>
<circle cx="207.70" cy="362.80" r="3.1" fill="#ff0000"/>
<circle cx="214.32" cy="370.90" r="3.1" fill="#ff0000"/>
<circle cx="220.94" cy="373.60" r="3.1" fill="#ff0000"/>
<circle cx="227.55" cy="377.90" r="3.1" fill="#ff0000"/>
<circle cx="234.17" cy="379.90" r="3.1" fill="#ff0000"/>
<circle cx="240.79" cy="383.60" r="3.1" fill="#ff0000"/>
<circle cx="247.41" cy="384.40" r="3.1" fill="#ff0000"/>
<circle cx="254.02" cy="386.20" r="3.1" fill="#ff0000"/>
<circle cx="260.64" cy="387.20" r="3.1" fill="#ff0000"/>
<circle cx="267.26" cy="389.60" r="3.1" fill="#ff0000"/>
<path d="M75.36,290.84 L78.86,297.28 L71.86,297.28 Z" fill="#0000ff"/>
<path d="M81.98,296.44 L85.48,302.88 L78.48,302.88 Z" fill="#0000ff"/>
<path d="M88.59,301.44 L92.09,307.88 L85.09,307.88 Z" fill="#0000ff"/>
<path d="M95.21,306.14 L98.71,312.58 L91.71,312.58 Z" fill="#0000ff"/>
<path d="M101.83,310.54 L105.33,316.98 L98.33,316.98 Z" fill="#0000ff"/>
<path d="M108.45,312.94 L111.95,319.38 L104.95,319.38 Z" fill="#0000ff"/>
<path d="M115.06,316.34 L118.56,322.78 L111.56,322.78 Z" fill="#0000ff"/>
<path d="M121.68,320.64 L125.18,327.08 L118.18,327.08 Z" fill="#0000ff"/>
<path d="M128.30,321.14 L131.80,327.58 L124.80,327.58 Z" fill="#0000ff"/>
<path d="M134.91,325.94 L138.41,332.38 L131.41,332.38 Z" fill="#0000ff"/>
<path d="M141.53,329.34 L145.03,335.78 L138.03,335.78 Z" fill="#0000ff"/>
<path d="M148.15,332.14 L151.65,338.58 L144.65,338.58 Z" fill="#0000ff"/>
<path d="M154.77,335.04 L158.27,341.48 L151.27,341.48 Z" fill="#0000ff"/>
<path d="M161.38,341.14 L164.88,347.58 L157.88,347.58 Z" fill="#0000ff"/>
<path d="M168.00,344.94 L171.50,351.38 L164.50,351.38 Z" fill="#0000ff"/>
<path d="M174.62,348.54 L178.12,354.98 L171.12,354.98 Z" fill="#0000ff"/>
<path d="M181.23,352.84 L184.73,359.28 L177.73,359.28 Z" fill="#0000ff"/>
<path d="M187.85,353.84 L191.35,360.28 L184.35,360.28 Z" fill="#0000ff"/>
<path d="M194.47,358.34 L197.97,364.78 L190.97,364.78 Z" fill="#0000ff"/>
<path d="M201.09,362.24 L204.59,368.68 L197.59,368.68 Z" fill="#0000ff"/>
<path d="M207.70,364.34 L211.20,370.78 L204.20,370.78 Z" fill="#0000ff"/>
<path d="M214.32,369.34 L217.82,375.78 L210.82,375.78 Z" fill="#0000ff"/>
<path d="M220.94,372.84 L224.44,379.28 L217.44,379.28 Z" fill="#0000ff"/>
<path d="M227.55,378.84 L231.05,385.28 L224.05,385.28 Z" fill="#0000ff"/>
<path d="M234.17,381.14 L237.67,387.58 L230.67,387.58 Z" fill="#0000ff"/>
<path d="M240.79,383.54 L244.29,389.98 L237.29,389.98 Z" fill="#0000ff"/>
<path d="M247.41,382.34 L250.91,388.78 L243.91,388.78 Z" fill="#0000ff"/>
<path d="M254.02,384.44 L257.52,390.88 L250.52,390.88 Z" fill="#0000ff"/>
<path d="M260.64,384.44 L264.14,390.88 L257.14,390.88 Z" fill="#0000ff"/>
<path d="M267.26,386.74 L270.76,393.18 L263.76,393.18 Z" fill="#0000ff"/>
<rect x="208.6" y="226" width="55.2" height="61.7" fill="#fff" stroke="#999" stroke-width="0.9"/>
<path d="M221.00,239.91 L224.90,232.73 L217.10,232.73 Z" fill="#ff00ff"/>
<rect x="218.30" y="247.60" width="5.4" height="5.4" fill="#000"/>
<circle cx="221.00" cy="265.10" r="3.4" fill="#ff0000"/>
<path d="M221.00,275.59 L224.90,282.77 L217.10,282.77 Z" fill="#0000ff"/>
<text x="232.00" y="239.60" font-family="Liberation Serif" font-size="12.2" text-anchor="start" fill="#111" stroke="#111" stroke-width="0.15">pH8.5</text>
<text x="232.00" y="254.40" font-family="Liberation Serif" font-size="12.2" text-anchor="start" fill="#111" stroke="#111" stroke-width="0.15">pH7.4</text>
<text x="232.00" y="269.20" font-family="Liberation Serif" font-size="12.2" text-anchor="start" fill="#111" stroke="#111" stroke-width="0.15">pH6.5</text>
<text x="232.00" y="284.00" font-family="Liberation Serif" font-size="12.2" text-anchor="start" fill="#111" stroke="#111" stroke-width="0.15">pH5.5</text>
<rect x="331.8" y="223.5" width="213.20" height="183.90" fill="none" stroke="#333" stroke-width="1.4"/>
<path d="M331.80,407.40 V409.60 M330.00,407.40 H331.80" stroke="#333" stroke-width="1.3"/>
<line x1="347.03" y1="407.4" x2="347.03" y2="410.60" stroke="#333" stroke-width="1.2"/>
<text x="347.03" y="423.00" font-family="Liberation Serif" font-size="11.5" text-anchor="middle" fill="#111" stroke="#111" stroke-width="0.15">0</text>
<line x1="377.49" y1="407.4" x2="377.49" y2="410.60" stroke="#333" stroke-width="1.2"/>
<text x="377.49" y="423.00" font-family="Liberation Serif" font-size="11.5" text-anchor="middle" fill="#111" stroke="#111" stroke-width="0.15">10</text>
<line x1="407.94" y1="407.4" x2="407.94" y2="410.60" stroke="#333" stroke-width="1.2"/>
<text x="407.94" y="423.00" font-family="Liberation Serif" font-size="11.5" text-anchor="middle" fill="#111" stroke="#111" stroke-width="0.15">20</text>
<line x1="438.40" y1="407.4" x2="438.40" y2="410.60" stroke="#333" stroke-width="1.2"/>
<text x="438.40" y="423.00" font-family="Liberation Serif" font-size="11.5" text-anchor="middle" fill="#111" stroke="#111" stroke-width="0.15">30</text>
<line x1="468.86" y1="407.4" x2="468.86" y2="410.60" stroke="#333" stroke-width="1.2"/>
<text x="468.86" y="423.00" font-family="Liberation Serif" font-size="11.5" text-anchor="middle" fill="#111" stroke="#111" stroke-width="0.15">40</text>
<line x1="499.31" y1="407.4" x2="499.31" y2="410.60" stroke="#333" stroke-width="1.2"/>
<text x="499.31" y="423.00" font-family="Liberation Serif" font-size="11.5" text-anchor="middle" fill="#111" stroke="#111" stroke-width="0.15">50</text>
<line x1="529.77" y1="407.4" x2="529.77" y2="410.60" stroke="#333" stroke-width="1.2"/>
<text x="529.77" y="423.00" font-family="Liberation Serif" font-size="11.5" text-anchor="middle" fill="#111" stroke="#111" stroke-width="0.15">60</text>
<line x1="362.26" y1="407.4" x2="362.26" y2="409.40" stroke="#333" stroke-width="1.1"/>
<line x1="392.71" y1="407.4" x2="392.71" y2="409.40" stroke="#333" stroke-width="1.1"/>
<line x1="423.17" y1="407.4" x2="423.17" y2="409.40" stroke="#333" stroke-width="1.1"/>
<line x1="453.63" y1="407.4" x2="453.63" y2="409.40" stroke="#333" stroke-width="1.1"/>
<line x1="484.09" y1="407.4" x2="484.09" y2="409.40" stroke="#333" stroke-width="1.1"/>
<line x1="514.54" y1="407.4" x2="514.54" y2="409.40" stroke="#333" stroke-width="1.1"/>
<line x1="328.60" y1="386.97" x2="331.8" y2="386.97" stroke="#333" stroke-width="1.2"/>
<text x="326.00" y="390.77" font-family="Liberation Serif" font-size="11.5" text-anchor="end" fill="#111" stroke="#111" stroke-width="0.15">0.4</text>
<line x1="328.60" y1="346.10" x2="331.8" y2="346.10" stroke="#333" stroke-width="1.2"/>
<text x="326.00" y="349.90" font-family="Liberation Serif" font-size="11.5" text-anchor="end" fill="#111" stroke="#111" stroke-width="0.15">0.6</text>
<line x1="328.60" y1="305.23" x2="331.8" y2="305.23" stroke="#333" stroke-width="1.2"/>
<text x="326.00" y="309.03" font-family="Liberation Serif" font-size="11.5" text-anchor="end" fill="#111" stroke="#111" stroke-width="0.15">0.8</text>
<line x1="328.60" y1="264.37" x2="331.8" y2="264.37" stroke="#333" stroke-width="1.2"/>
<text x="326.00" y="268.17" font-family="Liberation Serif" font-size="11.5" text-anchor="end" fill="#111" stroke="#111" stroke-width="0.15">1.0</text>
<line x1="328.60" y1="223.50" x2="331.8" y2="223.50" stroke="#333" stroke-width="1.2"/>
<text x="326.00" y="227.30" font-family="Liberation Serif" font-size="11.5" text-anchor="end" fill="#111" stroke="#111" stroke-width="0.15">1.2</text>
<line x1="329.80" y1="366.53" x2="331.8" y2="366.53" stroke="#333" stroke-width="1.1"/>
<line x1="329.80" y1="325.67" x2="331.8" y2="325.67" stroke="#333" stroke-width="1.1"/>
<line x1="329.80" y1="284.80" x2="331.8" y2="284.80" stroke="#333" stroke-width="1.1"/>
<line x1="329.80" y1="243.93" x2="331.8" y2="243.93" stroke="#333" stroke-width="1.1"/>
<text x="300.35" y="236.10" font-family="Liberation Sans" font-size="19.2" text-anchor="middle" fill="#111" stroke="#111" stroke-width="0.15">D</text>
<text x="432.70" y="441.50" font-family="Liberation Serif" font-size="15" text-anchor="middle" fill="#111" stroke="#111" stroke-width="0.15">T(°C)</text>
<text transform="translate(306.2,321.2) rotate(-90)" font-family="Liberation Serif" font-size="15.6" text-anchor="middle" fill="#111" stroke="#111" stroke-width="0.15">Nomerized</text>
<rect x="350.42" y="260.90" width="5.4" height="5.4" fill="#000"/>
<rect x="356.51" y="264.10" width="5.4" height="5.4" fill="#000"/>
<rect x="362.60" y="267.30" width="5.4" height="5.4" fill="#000"/>
<rect x="368.69" y="270.05" width="5.4" height="5.4" fill="#000"/>
<rect x="374.79" y="272.80" width="5.4" height="5.4" fill="#000"/>
<rect x="380.88" y="275.50" width="5.4" height="5.4" fill="#000"/>
<rect x="386.97" y="276.70" width="5.4" height="5.4" fill="#000"/>
<rect x="393.06" y="279.40" width="5.4" height="5.4" fill="#000"/>
<rect x="399.15" y="282.10" width="5.4" height="5.4" fill="#000"/>
<rect x="405.24" y="284.80" width="5.4" height="5.4" fill="#000"/>
<rect x="411.33" y="288.00" width="5.4" height="5.4" fill="#000"/>
<rect x="417.43" y="291.20" width="5.4" height="5.4" fill="#000"/>
<rect x="423.52" y="294.40" width="5.4" height="5.4" fill="#000"/>
<rect x="429.61" y="297.60" width="5.4" height="5.4" fill="#000"/>
<rect x="435.70" y="300.80" width="5.4" height="5.4" fill="#000"/>
<rect x="441.79" y="304.55" width="5.4" height="5.4" fill="#000"/>
<rect x="447.88" y="308.30" width="5.4" height="5.4" fill="#000"/>
<rect x="453.97" y="312.30" width="5.4" height="5.4" fill="#000"/>
<rect x="460.07" y="316.80" width="5.4" height="5.4" fill="#000"/>
<rect x="466.16" y="318.80" width="5.4" height="5.4" fill="#000"/>
<rect x="472.25" y="319.80" width="5.4" height="5.4" fill="#000"/>
<rect x="478.34" y="323.30" width="5.4" height="5.4" fill="#000"/>
<rect x="484.43" y="326.80" width="5.4" height="5.4" fill="#000"/>
<rect x="490.52" y="328.30" width="5.4" height="5.4" fill="#000"/>
<rect x="496.61" y="330.80" width="5.4" height="5.4" fill="#000"/>
<rect x="502.71" y="333.30" width="5.4" height="5.4" fill="#000"/>
<rect x="508.80" y="337.25" width="5.4" height="5.4" fill="#000"/>
<rect x="514.89" y="341.20" width="5.4" height="5.4" fill="#000"/>
<rect x="520.98" y="342.30" width="5.4" height="5.4" fill="#000"/>
<rect x="527.07" y="345.10" width="5.4" height="5.4" fill="#000"/>
<circle cx="353.12" cy="263.60" r="3.1" fill="#ff0000"/>
<circle cx="359.21" cy="267.00" r="3.1" fill="#ff0000"/>
<circle cx="365.30" cy="269.50" r="3.1" fill="#ff0000"/>
<circle cx="371.39" cy="272.50" r="3.1" fill="#ff0000"/>
<circle cx="377.49" cy="274.10" r="3.1" fill="#ff0000"/>
<circle cx="383.58" cy="277.50" r="3.1" fill="#ff0000"/>
<circle cx="389.67" cy="280.50" r="3.1" fill="#ff0000"/>
<circle cx="395.76" cy="283.50" r="3.1" fill="#ff0000"/>
<circle cx="401.85" cy="287.00" r="3.1" fill="#ff0000"/>
<circle cx="407.94" cy="291.00" r="3.1" fill="#ff0000"/>
<circle cx="414.03" cy="295.00" r="3.1" fill="#ff0000"/>
<circle cx="420.13" cy="299.60" r="3.1" fill="#ff0000"/>
<circle cx="426.22" cy="302.50" r="3.1" fill="#ff0000"/>
<circle cx="432.31" cy="305.50" r="3.1" fill="#ff0000"/>
<circle cx="438.40" cy="309.10" r="3.1" fill="#ff0000"/>
<circle cx="444.49" cy="312.00" r="3.1" fill="#ff0000"/>
<circle cx="450.58" cy="314.90" r="3.1" fill="#ff0000"/>
<circle cx="456.67" cy="317.10" r="3.1" fill="#ff0000"/>
<circle cx="462.77" cy="320.00" r="3.1" fill="#ff0000"/>
<circle cx="468.86" cy="323.60" r="3.1" fill="#ff0000"/>
<circle cx="474.95" cy="326.50" r="3.1" fill="#ff0000"/>
<circle cx="481.04" cy="328.80" r="3.1" fill="#ff0000"/>
<circle cx="487.13" cy="330.00" r="3.1" fill="#ff0000"/>
<circle cx="493.22" cy="332.80" r="3.1" fill="#ff0000"/>
<circle cx="499.31" cy="335.30" r="3.1" fill="#ff0000"/>
<circle cx="505.41" cy="337.20" r="3.1" fill="#ff0000"/>
<circle cx="511.50" cy="339.40" r="3.1" fill="#ff0000"/>
<circle cx="517.59" cy="341.70" r="3.1" fill="#ff0000"/>
<circle cx="523.68" cy="342.20" r="3.1" fill="#ff0000"/>
<circle cx="529.77" cy="342.80" r="3.1" fill="#ff0000"/>
<path d="M353.12,259.74 L356.62,266.18 L349.62,266.18 Z" fill="#0000ff"/>
<path d="M359.21,262.54 L362.71,268.98 L355.71,268.98 Z" fill="#0000ff"/>
<path d="M365.30,265.87 L368.80,272.31 L361.80,272.31 Z" fill="#0000ff"/>
<path d="M371.39,269.20 L374.89,275.64 L367.89,275.64 Z" fill="#0000ff"/>
<path d="M377.49,272.54 L380.99,278.98 L373.99,278.98 Z" fill="#0000ff"/>
<path d="M383.58,275.14 L387.08,281.58 L380.08,281.58 Z" fill="#0000ff"/>
<path d="M389.67,278.64 L393.17,285.08 L386.17,285.08 Z" fill="#0000ff"/>
<path d="M395.76,281.64 L399.26,288.08 L392.26,288.08 Z" fill="#0000ff"/>
<path d="M401.85,284.64 L405.35,291.08 L398.35,291.08 Z" fill="#0000ff"/>
<path d="M407.94,287.64 L411.44,294.08 L404.44,294.08 Z" fill="#0000ff"/>
<path d="M414.03,290.14 L417.53,296.58 L410.53,296.58 Z" fill="#0000ff"/>
<path d="M420.13,292.64 L423.63,299.08 L416.63,299.08 Z" fill="#0000ff"/>
<path d="M426.22,295.14 L429.72,301.58 L422.72,301.58 Z" fill="#0000ff"/>
<path d="M432.31,297.64 L435.81,304.08 L428.81,304.08 Z" fill="#0000ff"/>
<path d="M438.40,300.14 L441.90,306.58 L434.90,306.58 Z" fill="#0000ff"/>
<path d="M444.49,302.64 L447.99,309.08 L440.99,309.08 Z" fill="#0000ff"/>
<path d="M450.58,305.14 L454.08,311.58 L447.08,311.58 Z" fill="#0000ff"/>
<path d="M456.67,307.64 L460.17,314.08 L453.17,314.08 Z" fill="#0000ff"/>
<path d="M462.77,310.14 L466.27,316.58 L459.27,316.58 Z" fill="#0000ff"/>
<path d="M468.86,312.64 L472.36,319.08 L465.36,319.08 Z" fill="#0000ff"/>
<path d="M474.95,315.47 L478.45,321.91 L471.45,321.91 Z" fill="#0000ff"/>
<path d="M481.04,318.30 L484.54,324.74 L477.54,324.74 Z" fill="#0000ff"/>
<path d="M487.13,321.14 L490.63,327.58 L483.63,327.58 Z" fill="#0000ff"/>
<path d="M493.22,322.84 L496.72,329.28 L489.72,329.28 Z" fill="#0000ff"/>
<path d="M499.31,323.34 L502.81,329.78 L495.81,329.78 Z" fill="#0000ff"/>
<path d="M505.41,327.24 L508.91,333.68 L501.91,333.68 Z" fill="#0000ff"/>
<path d="M511.50,327.24 L515.00,333.68 L508.00,333.68 Z" fill="#0000ff"/>
<path d="M517.59,328.94 L521.09,335.38 L514.09,335.38 Z" fill="#0000ff"/>
<path d="M523.68,329.44 L527.18,335.88 L520.18,335.88 Z" fill="#0000ff"/>
<path d="M529.77,332.24 L533.27,338.68 L526.27,338.68 Z" fill="#0000ff"/>
<path d="M353.12,267.66 L356.62,261.22 L349.62,261.22 Z" fill="#ff00ff"/>
<path d="M359.21,272.06 L362.71,265.62 L355.71,265.62 Z" fill="#ff00ff"/>
<path d="M365.30,275.36 L368.80,268.92 L361.80,268.92 Z" fill="#ff00ff"/>
<path d="M371.39,278.56 L374.89,272.12 L367.89,272.12 Z" fill="#ff00ff"/>
<path d="M377.49,282.26 L380.99,275.82 L373.99,275.82 Z" fill="#ff00ff"/>
<path d="M383.58,283.66 L387.08,277.22 L380.08,277.22 Z" fill="#ff00ff"/>
<path d="M389.67,286.56 L393.17,280.12 L386.17,280.12 Z" fill="#ff00ff"/>
<path d="M395.76,288.76 L399.26,282.32 L392.26,282.32 Z" fill="#ff00ff"/>
<path d="M401.85,290.96 L405.35,284.52 L398.35,284.52 Z" fill="#ff00ff"/>
<path d="M407.94,294.26 L411.44,287.82 L404.44,287.82 Z" fill="#ff00ff"/>
<path d="M414.03,295.76 L417.53,289.32 L410.53,289.32 Z" fill="#ff00ff"/>
<path d="M420.13,296.96 L423.63,290.52 L416.63,290.52 Z" fill="#ff00ff"/>
<path d="M426.22,299.16 L429.72,292.72 L422.72,292.72 Z" fill="#ff00ff"/>
<path d="M432.31,302.76 L435.81,296.32 L428.81,296.32 Z" fill="#ff00ff"/>
<path d="M438.40,305.66 L441.90,299.22 L434.90,299.22 Z" fill="#ff00ff"/>
<path d="M444.49,307.86 L447.99,301.42 L440.99,301.42 Z" fill="#ff00ff"/>
<path d="M450.58,311.46 L454.08,305.02 L447.08,305.02 Z" fill="#ff00ff"/>
<path d="M456.67,312.26 L460.17,305.82 L453.17,305.82 Z" fill="#ff00ff"/>
<path d="M462.77,315.16 L466.27,308.72 L459.27,308.72 Z" fill="#ff00ff"/>
<path d="M468.86,318.06 L472.36,311.62 L465.36,311.62 Z" fill="#ff00ff"/>
<path d="M474.95,319.46 L478.45,313.02 L471.45,313.02 Z" fill="#ff00ff"/>
<path d="M481.04,323.66 L484.54,317.22 L477.54,317.22 Z" fill="#ff00ff"/>
<path d="M487.13,326.36 L490.63,319.92 L483.63,319.92 Z" fill="#ff00ff"/>
<path d="M493.22,329.86 L496.72,323.42 L489.72,323.42 Z" fill="#ff00ff"/>
<path d="M499.31,331.76 L502.81,325.32 L495.81,325.32 Z" fill="#ff00ff"/>
<path d="M505.41,333.86 L508.91,327.42 L501.91,327.42 Z" fill="#ff00ff"/>
<path d="M511.50,332.56 L515.00,326.12 L508.00,326.12 Z" fill="#ff00ff"/>
<path d="M517.59,334.96 L521.09,328.52 L514.09,328.52 Z" fill="#ff00ff"/>
<path d="M523.68,334.76 L527.18,328.32 L520.18,328.32 Z" fill="#ff00ff"/>
<path d="M529.77,336.06 L533.27,329.62 L526.27,329.62 Z" fill="#ff00ff"/>
<rect x="471.2" y="237.5" width="51.5" height="60.2" fill="#fff" stroke="#999" stroke-width="0.9"/>
<rect x="479.20" y="244.20" width="5.2" height="5.2" fill="#000"/>
<circle cx="481.80" cy="261.90" r="3.2" fill="#ff0000"/>
<path d="M481.80,272.22 L485.50,279.02 L478.10,279.02 Z" fill="#0000ff"/>
<path d="M481.80,295.98 L485.50,289.18 L478.10,289.18 Z" fill="#ff00ff"/>
<text x="493.40" y="250.40" font-family="Liberation Serif" font-size="11.2" text-anchor="start" fill="#111" stroke="#111" stroke-width="0.15">pH8.5</text>
<text x="493.40" y="265.40" font-family="Liberation Serif" font-size="11.2" text-anchor="start" fill="#111" stroke="#111" stroke-width="0.15">pH7.4</text>
<text x="493.40" y="280.40" font-family="Liberation Serif" font-size="11.2" text-anchor="start" fill="#111" stroke="#111" stroke-width="0.15">pH6.5</text>
<text x="493.40" y="295.40" font-family="Liberation Serif" font-size="11.2" text-anchor="start" fill="#111" stroke="#111" stroke-width="0.15">pH5.5</text>
</svg></body></html>
